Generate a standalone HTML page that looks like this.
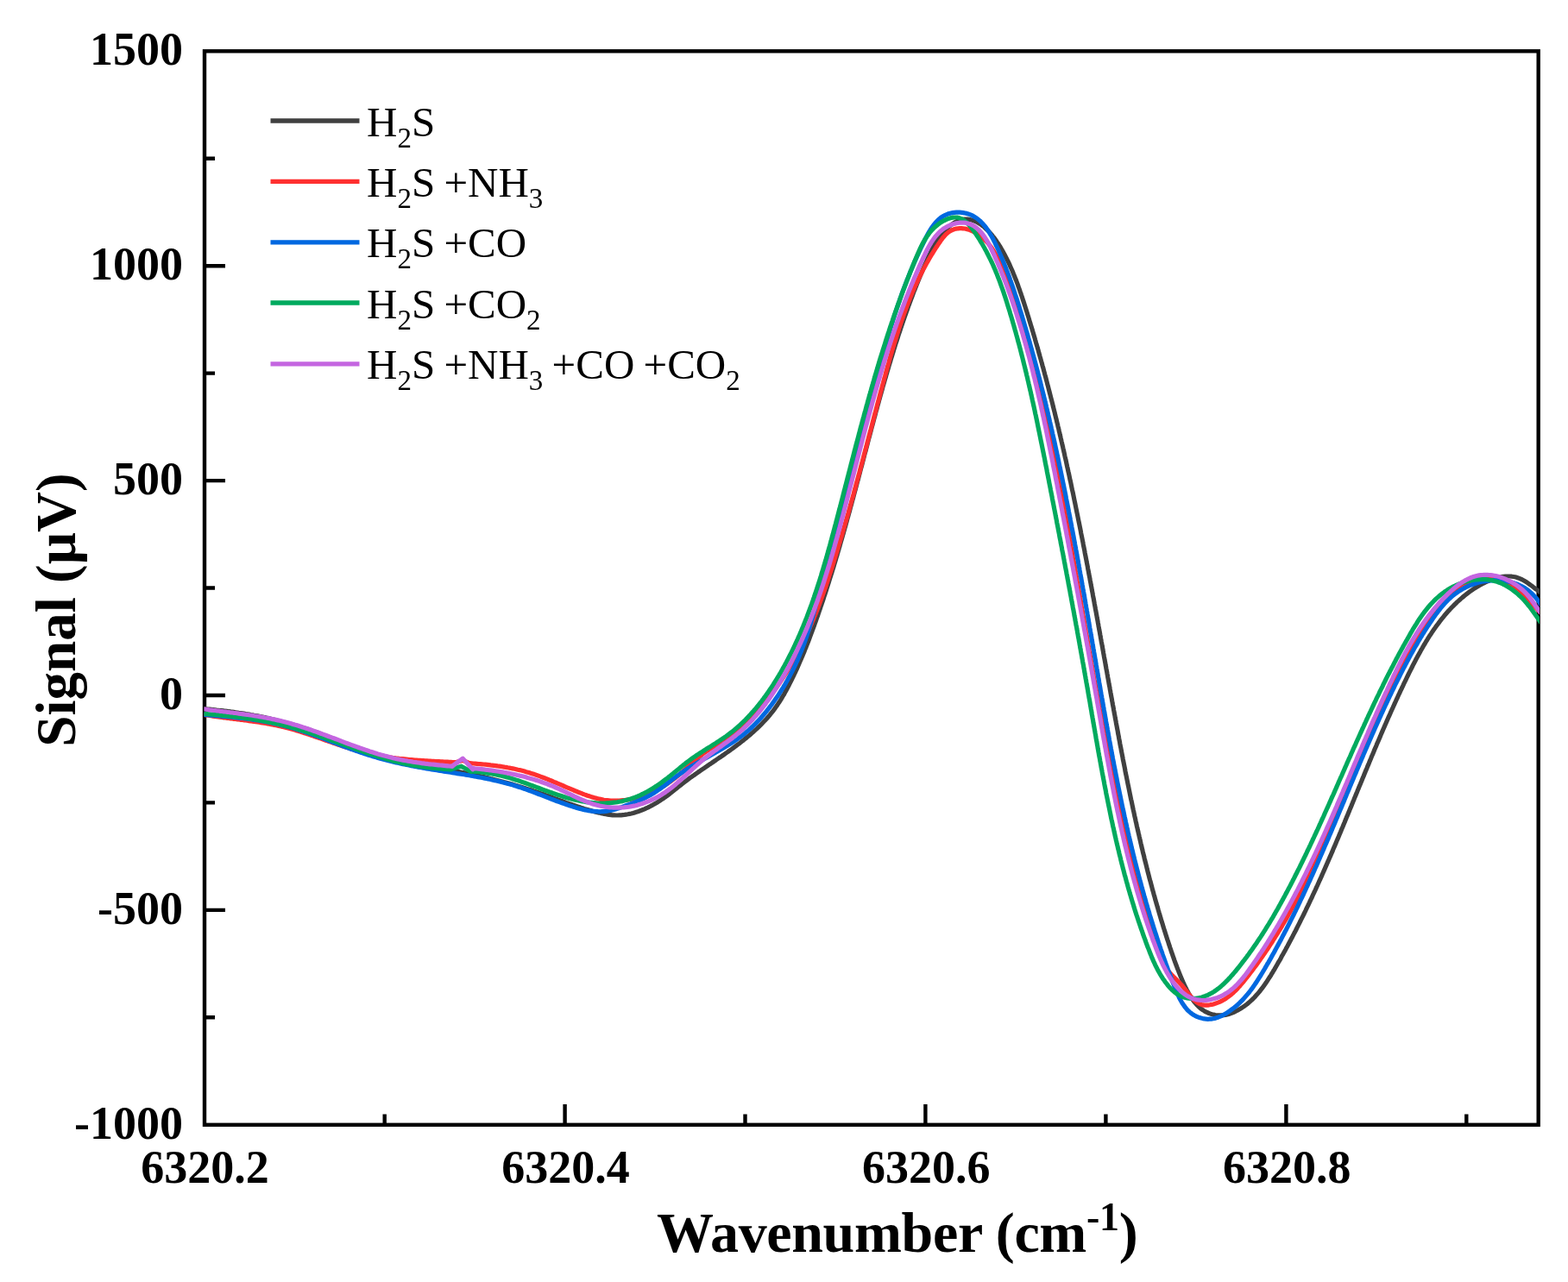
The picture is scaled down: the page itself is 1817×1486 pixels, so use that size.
<!DOCTYPE html>
<html><head><meta charset="utf-8">
<style>
html,body{margin:0;padding:0;background:#fff;}
body{width:1817px;height:1486px;overflow:hidden;}
svg{display:block;}
.tl{font-family:"Liberation Serif","Times New Roman",serif;font-weight:bold;font-size:54px;fill:#000;}
.lg{font-family:"Liberation Serif","Times New Roman",serif;font-size:49px;fill:#000;word-spacing:-2px;}
.sb{font-size:33px;}
.ax{font-family:"Liberation Serif","Times New Roman",serif;font-weight:bold;font-size:66px;fill:#000;}
</style></head>
<body>
<svg width="1817" height="1486" viewBox="0 0 1817 1486">
<defs><clipPath id="pc"><rect x="236.5" y="40" width="1547.6" height="1270"/></clipPath></defs>
<rect x="0" y="0" width="1817" height="1486" fill="#fff"/>
<!-- AXES -->
<g stroke="#000" stroke-width="4.4" fill="none">
<rect x="237" y="59.3" width="1545.7" height="1244.5"/>
<path d="M237 308.2H261M237 557.1H261M237 806H261M237 1054.9H261"/>
<path d="M237 183.7H249M237 432.6H249M237 681.5H249M237 930.4H249M237 1179.3H249"/>
<path d="M654.6 1303.8V1280M1072.4 1303.8V1280M1490.4 1303.8V1280"/>
<path d="M445.7 1303.8V1291.6M863.5 1303.8V1291.6M1281.4 1303.8V1291.6M1699.3 1303.8V1291.6"/>
</g>
<!-- CURVES -->
<g id="curves" clip-path="url(#pc)" fill="none" stroke-width="5.2" stroke-linejoin="round" stroke-linecap="butt">
<path stroke="#404040" d="M233.0 821.3 L235.0 821.4 L237.0 821.6 L239.0 821.8 L240.9 822.0 L242.9 822.2 L244.9 822.4 L246.9 822.6 L248.9 822.8 L250.9 823.1 L252.9 823.3 L254.9 823.5 L256.9 823.7 L258.9 823.9 L260.9 824.2 L262.9 824.4 L264.8 824.7 L266.8 824.9 L268.8 825.2 L270.8 825.4 L272.8 825.7 L274.8 826.0 L276.8 826.3 L278.8 826.5 L280.8 826.8 L282.7 827.1 L284.7 827.5 L286.7 827.8 L288.7 828.1 L290.7 828.5 L292.6 828.8 L294.6 829.2 L296.6 829.5 L298.5 829.9 L300.5 830.3 L302.5 830.7 L304.4 831.1 L306.4 831.5 L308.3 831.9 L310.3 832.4 L312.2 832.8 L314.2 833.3 L316.1 833.7 L318.1 834.2 L320.0 834.7 L321.9 835.2 L323.9 835.7 L325.8 836.2 L327.7 836.7 L329.7 837.2 L331.6 837.7 L333.5 838.3 L335.4 838.8 L337.4 839.4 L339.3 839.9 L341.2 840.5 L343.1 841.1 L345.0 841.7 L346.9 842.2 L348.8 842.9 L350.7 843.5 L352.6 844.1 L354.5 844.7 L356.4 845.3 L358.3 846.0 L360.2 846.6 L362.1 847.3 L364.0 848.0 L365.9 848.6 L367.8 849.3 L369.7 850.0 L371.5 850.7 L373.4 851.4 L375.3 852.1 L377.2 852.8 L379.0 853.6 L380.9 854.3 L382.8 855.0 L384.6 855.8 L386.5 856.5 L388.4 857.2 L390.2 858.0 L392.1 858.7 L394.0 859.5 L395.8 860.2 L397.7 861.0 L399.5 861.7 L401.4 862.5 L403.3 863.2 L405.1 864.0 L407.0 864.7 L408.9 865.5 L410.7 866.2 L412.6 867.0 L414.5 867.7 L416.3 868.4 L418.2 869.1 L420.1 869.9 L422.0 870.6 L423.8 871.3 L425.7 872.0 L427.6 872.7 L429.5 873.3 L431.4 874.0 L433.2 874.7 L435.1 875.3 L437.0 875.9 L438.9 876.6 L440.8 877.2 L442.7 877.8 L444.6 878.4 L446.6 878.9 L448.5 879.5 L450.4 880.0 L452.3 880.6 L454.2 881.1 L456.2 881.6 L458.1 882.0 L460.1 882.5 L462.0 882.9 L463.9 883.4 L465.9 883.8 L467.9 884.2 L469.8 884.6 L471.8 884.9 L473.8 885.3 L475.7 885.7 L477.7 886.0 L479.7 886.3 L481.7 886.7 L483.6 887.0 L485.6 887.3 L487.6 887.6 L489.6 887.9 L491.6 888.2 L493.6 888.5 L495.6 888.8 L497.6 889.1 L499.5 889.4 L501.5 889.7 L503.5 889.9 L505.5 890.2 L507.5 890.5 L509.5 890.8 L511.5 891.1 L513.4 891.5 L515.4 891.8 L517.4 892.1 L519.4 892.4 L521.4 892.7 L523.3 893.1 L525.3 893.4 L527.3 893.8 L529.2 894.1 L531.2 894.5 L533.2 894.9 L535.1 895.2 L537.1 895.6 L539.1 896.0 L541.0 896.4 L543.0 896.8 L545.0 897.2 L546.9 897.6 L548.9 898.0 L550.8 898.4 L552.8 898.9 L554.7 899.3 L556.7 899.7 L558.6 900.2 L560.6 900.6 L562.5 901.1 L564.5 901.5 L566.4 902.0 L568.3 902.5 L570.3 902.9 L572.2 903.4 L574.2 903.9 L576.1 904.4 L578.0 904.9 L580.0 905.4 L581.9 905.9 L583.8 906.5 L585.8 907.0 L587.7 907.5 L589.6 908.0 L591.5 908.6 L593.5 909.1 L595.4 909.7 L597.3 910.3 L599.2 910.8 L601.2 911.4 L603.1 912.0 L605.0 912.6 L606.9 913.2 L608.8 913.8 L610.7 914.4 L612.6 915.0 L614.5 915.6 L616.4 916.2 L618.3 916.9 L620.2 917.5 L622.1 918.2 L624.0 918.8 L625.9 919.5 L627.8 920.1 L629.7 920.8 L631.6 921.5 L633.5 922.2 L635.4 922.8 L637.3 923.5 L639.2 924.2 L641.1 924.9 L642.9 925.6 L644.8 926.3 L646.7 927.0 L648.6 927.6 L650.5 928.3 L652.4 929.0 L654.3 929.7 L656.2 930.4 L658.0 931.0 L659.9 931.7 L661.8 932.3 L663.7 933.0 L665.6 933.6 L667.5 934.3 L669.4 934.9 L671.3 935.5 L673.2 936.2 L675.1 936.8 L677.0 937.4 L678.9 937.9 L680.9 938.5 L682.8 939.1 L684.7 939.6 L686.6 940.2 L688.5 940.7 L690.5 941.2 L692.4 941.7 L694.3 942.1 L696.3 942.6 L698.2 943.0 L700.2 943.4 L702.1 943.8 L704.1 944.1 L706.0 944.4 L708.0 944.6 L709.9 944.8 L711.9 944.9 L713.9 945.0 L715.8 945.0 L717.8 944.9 L719.8 944.8 L721.7 944.6 L723.7 944.4 L725.6 944.1 L727.6 943.8 L729.6 943.4 L731.5 943.0 L733.5 942.5 L735.4 941.9 L737.3 941.3 L739.2 940.7 L741.2 940.0 L743.1 939.3 L745.0 938.5 L746.8 937.8 L748.7 936.9 L750.6 936.1 L752.4 935.2 L754.2 934.2 L756.0 933.3 L757.8 932.3 L759.6 931.2 L761.4 930.2 L763.1 929.1 L764.8 928.0 L766.5 926.9 L768.2 925.8 L769.8 924.6 L771.5 923.5 L773.1 922.3 L774.7 921.1 L776.2 919.9 L777.8 918.7 L779.3 917.5 L780.9 916.2 L782.4 915.0 L784.0 913.8 L785.5 912.5 L787.0 911.3 L788.6 910.1 L790.1 908.9 L791.7 907.7 L793.3 906.5 L794.8 905.3 L796.4 904.1 L798.0 902.9 L799.6 901.7 L801.2 900.6 L802.9 899.4 L804.5 898.3 L806.1 897.1 L807.8 896.0 L809.4 894.8 L811.1 893.7 L812.7 892.5 L814.4 891.4 L816.0 890.3 L817.7 889.1 L819.4 888.0 L821.0 886.9 L822.7 885.7 L824.4 884.6 L826.0 883.5 L827.7 882.3 L829.4 881.2 L831.1 880.0 L832.7 878.9 L834.4 877.8 L836.1 876.6 L837.7 875.5 L839.4 874.3 L841.0 873.2 L842.7 872.0 L844.3 870.8 L846.0 869.7 L847.6 868.5 L849.2 867.3 L850.8 866.1 L852.5 864.9 L854.1 863.7 L855.7 862.5 L857.3 861.3 L858.9 860.0 L860.4 858.8 L862.0 857.6 L863.6 856.3 L865.1 855.1 L866.6 853.8 L868.2 852.5 L869.7 851.2 L871.2 849.9 L872.7 848.6 L874.2 847.2 L875.6 845.9 L877.1 844.6 L878.5 843.2 L879.9 841.8 L881.4 840.4 L882.8 839.0 L884.1 837.6 L885.5 836.1 L886.8 834.7 L888.2 833.2 L889.5 831.7 L890.8 830.2 L892.1 828.7 L893.3 827.2 L894.6 825.6 L895.8 824.1 L897.0 822.5 L898.2 820.9 L899.3 819.2 L900.5 817.6 L901.6 815.9 L902.7 814.3 L903.8 812.6 L904.9 810.9 L905.9 809.1 L906.9 807.4 L908.0 805.7 L909.0 803.9 L909.9 802.1 L910.9 800.4 L911.9 798.6 L912.8 796.8 L913.8 795.0 L914.7 793.2 L915.6 791.4 L916.5 789.6 L917.4 787.8 L918.3 785.9 L919.2 784.1 L920.1 782.3 L920.9 780.5 L921.8 778.7 L922.6 776.8 L923.5 775.0 L924.3 773.2 L925.1 771.3 L925.9 769.5 L926.7 767.6 L927.5 765.8 L928.3 764.0 L929.1 762.1 L929.9 760.3 L930.6 758.4 L931.4 756.6 L932.2 754.7 L932.9 752.8 L933.7 751.0 L934.4 749.1 L935.1 747.3 L935.9 745.4 L936.6 743.5 L937.3 741.7 L938.0 739.8 L938.7 737.9 L939.4 736.1 L940.1 734.2 L940.8 732.3 L941.5 730.4 L942.2 728.6 L942.9 726.7 L943.6 724.8 L944.2 722.9 L944.9 721.0 L945.6 719.1 L946.2 717.3 L946.9 715.4 L947.6 713.5 L948.2 711.6 L948.9 709.7 L949.5 707.8 L950.2 705.9 L950.8 704.0 L951.4 702.2 L952.1 700.3 L952.7 698.4 L953.4 696.5 L954.0 694.6 L954.6 692.7 L955.2 690.8 L955.9 688.9 L956.5 687.0 L957.1 685.1 L957.7 683.2 L958.3 681.3 L958.9 679.4 L959.5 677.5 L960.1 675.6 L960.7 673.7 L961.3 671.8 L961.9 669.8 L962.5 667.9 L963.1 666.0 L963.7 664.1 L964.3 662.2 L964.9 660.3 L965.5 658.4 L966.1 656.5 L966.6 654.6 L967.2 652.7 L967.8 650.7 L968.4 648.8 L968.9 646.9 L969.5 645.0 L970.1 643.1 L970.6 641.2 L971.2 639.2 L971.8 637.3 L972.3 635.4 L972.9 633.5 L973.4 631.6 L974.0 629.6 L974.5 627.7 L975.1 625.8 L975.6 623.9 L976.2 621.9 L976.7 620.0 L977.3 618.1 L977.8 616.2 L978.4 614.2 L978.9 612.3 L979.5 610.4 L980.0 608.5 L980.5 606.5 L981.1 604.6 L981.6 602.7 L982.1 600.7 L982.7 598.8 L983.2 596.9 L983.7 595.0 L984.3 593.0 L984.8 591.1 L985.3 589.2 L985.8 587.2 L986.4 585.3 L986.9 583.4 L987.4 581.4 L987.9 579.5 L988.5 577.6 L989.0 575.6 L989.5 573.7 L990.0 571.8 L990.5 569.8 L991.1 567.9 L991.6 565.9 L992.1 564.0 L992.6 562.1 L993.1 560.1 L993.6 558.2 L994.2 556.3 L994.7 554.3 L995.2 552.4 L995.7 550.4 L996.2 548.5 L996.7 546.6 L997.2 544.6 L997.7 542.7 L998.3 540.7 L998.8 538.8 L999.3 536.9 L999.8 534.9 L1000.3 533.0 L1000.8 531.1 L1001.3 529.1 L1001.8 527.2 L1002.3 525.2 L1002.9 523.3 L1003.4 521.3 L1003.9 519.4 L1004.4 517.5 L1004.9 515.5 L1005.4 513.6 L1005.9 511.6 L1006.4 509.7 L1006.9 507.8 L1007.5 505.8 L1008.0 503.9 L1008.5 501.9 L1009.0 500.0 L1009.5 498.1 L1010.0 496.1 L1010.5 494.2 L1011.1 492.2 L1011.6 490.3 L1012.1 488.4 L1012.6 486.4 L1013.1 484.5 L1013.7 482.5 L1014.2 480.6 L1014.7 478.7 L1015.2 476.7 L1015.8 474.8 L1016.3 472.9 L1016.8 470.9 L1017.3 469.0 L1017.9 467.0 L1018.4 465.1 L1018.9 463.2 L1019.5 461.2 L1020.0 459.3 L1020.5 457.4 L1021.1 455.4 L1021.6 453.5 L1022.2 451.6 L1022.7 449.7 L1023.2 447.7 L1023.8 445.8 L1024.3 443.9 L1024.9 441.9 L1025.4 440.0 L1026.0 438.1 L1026.6 436.2 L1027.1 434.2 L1027.7 432.3 L1028.2 430.4 L1028.8 428.5 L1029.4 426.5 L1029.9 424.6 L1030.5 422.7 L1031.1 420.8 L1031.7 418.9 L1032.2 417.0 L1032.8 415.0 L1033.4 413.1 L1034.0 411.2 L1034.6 409.3 L1035.2 407.4 L1035.7 405.5 L1036.3 403.6 L1036.9 401.7 L1037.5 399.7 L1038.1 397.8 L1038.8 395.9 L1039.4 394.0 L1040.0 392.1 L1040.6 390.2 L1041.2 388.3 L1041.8 386.4 L1042.5 384.5 L1043.1 382.6 L1043.7 380.7 L1044.4 378.8 L1045.0 377.0 L1045.6 375.1 L1046.3 373.2 L1046.9 371.3 L1047.6 369.4 L1048.2 367.5 L1048.9 365.6 L1049.6 363.8 L1050.2 361.9 L1050.9 360.0 L1051.6 358.1 L1052.2 356.2 L1052.9 354.4 L1053.6 352.5 L1054.3 350.6 L1055.0 348.8 L1055.7 346.9 L1056.4 345.0 L1057.1 343.2 L1057.8 341.3 L1058.5 339.4 L1059.2 337.6 L1060.0 335.7 L1060.7 333.9 L1061.4 332.0 L1062.1 330.2 L1062.9 328.3 L1063.6 326.5 L1064.4 324.6 L1065.1 322.8 L1065.9 320.9 L1066.6 319.1 L1067.4 317.3 L1068.2 315.4 L1069.0 313.6 L1069.7 311.8 L1070.5 309.9 L1071.3 308.1 L1072.1 306.3 L1072.9 304.5 L1073.7 302.7 L1074.5 300.8 L1075.3 299.0 L1076.2 297.2 L1077.0 295.4 L1077.9 293.6 L1078.7 291.8 L1079.6 290.0 L1080.5 288.2 L1081.4 286.5 L1082.4 284.7 L1083.4 282.9 L1084.4 281.2 L1085.5 279.5 L1086.6 277.8 L1087.8 276.0 L1089.0 274.4 L1090.3 272.7 L1091.6 271.1 L1092.9 269.4 L1094.3 267.9 L1095.8 266.3 L1097.3 264.9 L1098.8 263.4 L1100.4 262.1 L1102.0 260.8 L1103.6 259.7 L1105.2 258.6 L1106.9 257.6 L1108.7 256.7 L1110.4 255.9 L1112.2 255.3 L1113.9 254.8 L1115.8 254.4 L1117.6 254.2 L1119.4 254.1 L1121.2 254.2 L1123.1 254.4 L1124.9 254.8 L1126.7 255.2 L1128.5 255.8 L1130.3 256.6 L1132.1 257.4 L1133.8 258.4 L1135.5 259.4 L1137.2 260.6 L1138.8 261.8 L1140.4 263.1 L1141.9 264.5 L1143.5 266.0 L1145.0 267.4 L1146.4 269.0 L1147.8 270.5 L1149.2 272.1 L1150.5 273.8 L1151.8 275.4 L1153.0 277.0 L1154.2 278.7 L1155.3 280.4 L1156.4 282.0 L1157.5 283.7 L1158.6 285.4 L1159.6 287.1 L1160.6 288.9 L1161.6 290.6 L1162.6 292.3 L1163.5 294.1 L1164.5 295.8 L1165.4 297.6 L1166.3 299.4 L1167.2 301.2 L1168.1 302.9 L1168.9 304.7 L1169.8 306.5 L1170.6 308.4 L1171.4 310.2 L1172.2 312.0 L1173.0 313.8 L1173.8 315.7 L1174.5 317.5 L1175.3 319.4 L1176.0 321.2 L1176.7 323.1 L1177.5 324.9 L1178.2 326.8 L1178.9 328.7 L1179.6 330.6 L1180.2 332.4 L1180.9 334.3 L1181.6 336.2 L1182.2 338.1 L1182.9 340.0 L1183.5 341.9 L1184.2 343.8 L1184.8 345.7 L1185.4 347.6 L1186.0 349.5 L1186.7 351.4 L1187.3 353.4 L1187.9 355.3 L1188.5 357.2 L1189.1 359.1 L1189.7 361.0 L1190.3 362.9 L1190.9 364.9 L1191.5 366.8 L1192.1 368.7 L1192.6 370.6 L1193.2 372.5 L1193.8 374.4 L1194.4 376.4 L1195.0 378.3 L1195.6 380.2 L1196.1 382.1 L1196.7 384.0 L1197.3 386.0 L1197.8 387.9 L1198.4 389.8 L1199.0 391.7 L1199.5 393.7 L1200.1 395.6 L1200.6 397.5 L1201.2 399.4 L1201.8 401.4 L1202.3 403.3 L1202.9 405.2 L1203.4 407.1 L1203.9 409.1 L1204.5 411.0 L1205.0 412.9 L1205.6 414.9 L1206.1 416.8 L1206.6 418.7 L1207.2 420.6 L1207.7 422.6 L1208.2 424.5 L1208.8 426.4 L1209.3 428.4 L1209.8 430.3 L1210.3 432.2 L1210.8 434.2 L1211.4 436.1 L1211.9 438.0 L1212.4 440.0 L1212.9 441.9 L1213.4 443.8 L1213.9 445.8 L1214.4 447.7 L1214.9 449.6 L1215.4 451.6 L1215.9 453.5 L1216.4 455.5 L1216.9 457.4 L1217.4 459.3 L1217.9 461.3 L1218.4 463.2 L1218.9 465.2 L1219.4 467.1 L1219.9 469.0 L1220.3 471.0 L1220.8 472.9 L1221.3 474.9 L1221.8 476.8 L1222.3 478.7 L1222.7 480.7 L1223.2 482.6 L1223.7 484.6 L1224.2 486.5 L1224.6 488.5 L1225.1 490.4 L1225.6 492.3 L1226.0 494.3 L1226.5 496.2 L1227.0 498.2 L1227.4 500.1 L1227.9 502.1 L1228.3 504.0 L1228.8 506.0 L1229.2 507.9 L1229.7 509.9 L1230.1 511.8 L1230.6 513.7 L1231.0 515.7 L1231.5 517.6 L1231.9 519.6 L1232.4 521.5 L1232.8 523.5 L1233.3 525.4 L1233.7 527.4 L1234.1 529.3 L1234.6 531.3 L1235.0 533.2 L1235.5 535.2 L1235.9 537.2 L1236.3 539.1 L1236.7 541.1 L1237.2 543.0 L1237.6 545.0 L1238.0 546.9 L1238.5 548.9 L1238.9 550.8 L1239.3 552.8 L1239.7 554.7 L1240.1 556.7 L1240.6 558.6 L1241.0 560.6 L1241.4 562.6 L1241.8 564.5 L1242.2 566.5 L1242.6 568.4 L1243.1 570.4 L1243.5 572.3 L1243.9 574.3 L1244.3 576.3 L1244.7 578.2 L1245.1 580.2 L1245.5 582.1 L1245.9 584.1 L1246.3 586.0 L1246.7 588.0 L1247.1 590.0 L1247.5 591.9 L1247.9 593.9 L1248.3 595.8 L1248.7 597.8 L1249.1 599.8 L1249.5 601.7 L1249.9 603.7 L1250.3 605.6 L1250.7 607.6 L1251.1 609.6 L1251.5 611.5 L1251.9 613.5 L1252.3 615.5 L1252.6 617.4 L1253.0 619.4 L1253.4 621.3 L1253.8 623.3 L1254.2 625.3 L1254.6 627.2 L1255.0 629.2 L1255.3 631.2 L1255.7 633.1 L1256.1 635.1 L1256.5 637.1 L1256.9 639.0 L1257.2 641.0 L1257.6 643.0 L1258.0 644.9 L1258.4 646.9 L1258.8 648.9 L1259.1 650.8 L1259.5 652.8 L1259.9 654.8 L1260.3 656.7 L1260.6 658.7 L1261.0 660.7 L1261.4 662.6 L1261.7 664.6 L1262.1 666.6 L1262.5 668.5 L1262.9 670.5 L1263.2 672.5 L1263.6 674.4 L1264.0 676.4 L1264.3 678.4 L1264.7 680.3 L1265.1 682.3 L1265.4 684.3 L1265.8 686.2 L1266.2 688.2 L1266.5 690.2 L1266.9 692.2 L1267.3 694.1 L1267.6 696.1 L1268.0 698.1 L1268.3 700.0 L1268.7 702.0 L1269.1 704.0 L1269.4 706.0 L1269.8 707.9 L1270.2 709.9 L1270.5 711.9 L1270.9 713.8 L1271.2 715.8 L1271.6 717.8 L1272.0 719.8 L1272.3 721.7 L1272.7 723.7 L1273.0 725.7 L1273.4 727.6 L1273.7 729.6 L1274.1 731.6 L1274.5 733.6 L1274.8 735.5 L1275.2 737.5 L1275.5 739.5 L1275.9 741.5 L1276.2 743.4 L1276.6 745.4 L1277.0 747.4 L1277.3 749.3 L1277.7 751.3 L1278.0 753.3 L1278.4 755.3 L1278.7 757.2 L1279.1 759.2 L1279.4 761.2 L1279.8 763.2 L1280.2 765.1 L1280.5 767.1 L1280.9 769.1 L1281.2 771.1 L1281.6 773.0 L1281.9 775.0 L1282.3 777.0 L1282.7 779.0 L1283.0 780.9 L1283.4 782.9 L1283.7 784.9 L1284.1 786.9 L1284.4 788.8 L1284.8 790.8 L1285.1 792.8 L1285.5 794.8 L1285.9 796.7 L1286.2 798.7 L1286.6 800.7 L1286.9 802.7 L1287.3 804.6 L1287.6 806.6 L1288.0 808.6 L1288.4 810.6 L1288.7 812.5 L1289.1 814.5 L1289.4 816.5 L1289.8 818.5 L1290.2 820.4 L1290.5 822.4 L1290.9 824.4 L1291.2 826.4 L1291.6 828.3 L1292.0 830.3 L1292.3 832.3 L1292.7 834.3 L1293.1 836.2 L1293.4 838.2 L1293.8 840.2 L1294.2 842.2 L1294.5 844.1 L1294.9 846.1 L1295.3 848.1 L1295.6 850.1 L1296.0 852.0 L1296.4 854.0 L1296.7 856.0 L1297.1 858.0 L1297.5 859.9 L1297.8 861.9 L1298.2 863.9 L1298.6 865.9 L1299.0 867.8 L1299.3 869.8 L1299.7 871.8 L1300.1 873.7 L1300.5 875.7 L1300.9 877.7 L1301.2 879.7 L1301.6 881.6 L1302.0 883.6 L1302.4 885.6 L1302.8 887.5 L1303.2 889.5 L1303.6 891.5 L1303.9 893.4 L1304.3 895.4 L1304.7 897.4 L1305.1 899.3 L1305.5 901.3 L1305.9 903.3 L1306.3 905.2 L1306.7 907.2 L1307.1 909.2 L1307.5 911.1 L1307.9 913.1 L1308.3 915.1 L1308.7 917.0 L1309.1 919.0 L1309.5 921.0 L1309.9 922.9 L1310.3 924.9 L1310.7 926.8 L1311.2 928.8 L1311.6 930.8 L1312.0 932.7 L1312.4 934.7 L1312.8 936.6 L1313.2 938.6 L1313.7 940.6 L1314.1 942.5 L1314.5 944.5 L1314.9 946.4 L1315.4 948.4 L1315.8 950.3 L1316.2 952.3 L1316.7 954.2 L1317.1 956.2 L1317.5 958.1 L1318.0 960.1 L1318.4 962.0 L1318.9 964.0 L1319.3 965.9 L1319.8 967.9 L1320.2 969.8 L1320.7 971.8 L1321.1 973.7 L1321.6 975.7 L1322.0 977.6 L1322.5 979.6 L1322.9 981.5 L1323.4 983.5 L1323.9 985.4 L1324.3 987.3 L1324.8 989.3 L1325.3 991.2 L1325.8 993.2 L1326.2 995.1 L1326.7 997.0 L1327.2 999.0 L1327.7 1000.9 L1328.2 1002.8 L1328.7 1004.8 L1329.1 1006.7 L1329.6 1008.6 L1330.1 1010.6 L1330.6 1012.5 L1331.1 1014.4 L1331.6 1016.4 L1332.1 1018.3 L1332.6 1020.2 L1333.2 1022.1 L1333.7 1024.1 L1334.2 1026.0 L1334.7 1027.9 L1335.2 1029.8 L1335.7 1031.8 L1336.3 1033.7 L1336.8 1035.6 L1337.3 1037.5 L1337.9 1039.4 L1338.4 1041.3 L1338.9 1043.3 L1339.5 1045.2 L1340.0 1047.1 L1340.6 1049.0 L1341.1 1050.9 L1341.7 1052.8 L1342.2 1054.7 L1342.8 1056.6 L1343.3 1058.5 L1343.9 1060.4 L1344.5 1062.4 L1345.0 1064.3 L1345.6 1066.2 L1346.2 1068.1 L1346.8 1070.0 L1347.4 1071.9 L1347.9 1073.8 L1348.5 1075.7 L1349.1 1077.5 L1349.7 1079.4 L1350.3 1081.3 L1350.9 1083.2 L1351.5 1085.1 L1352.1 1087.0 L1352.7 1088.9 L1353.4 1090.8 L1354.0 1092.7 L1354.6 1094.6 L1355.2 1096.4 L1355.8 1098.3 L1356.5 1100.2 L1357.1 1102.1 L1357.7 1104.0 L1358.4 1105.8 L1359.0 1107.7 L1359.7 1109.6 L1360.4 1111.5 L1361.0 1113.4 L1361.7 1115.2 L1362.4 1117.1 L1363.1 1119.0 L1363.8 1120.9 L1364.5 1122.8 L1365.3 1124.7 L1366.0 1126.6 L1366.8 1128.5 L1367.6 1130.4 L1368.3 1132.3 L1369.2 1134.3 L1370.0 1136.2 L1370.8 1138.1 L1371.7 1140.1 L1372.6 1142.0 L1373.5 1143.9 L1374.4 1145.8 L1375.4 1147.7 L1376.4 1149.5 L1377.4 1151.4 L1378.4 1153.2 L1379.5 1154.9 L1380.6 1156.7 L1381.8 1158.3 L1383.0 1160.0 L1384.2 1161.6 L1385.5 1163.1 L1386.8 1164.6 L1388.2 1166.0 L1389.6 1167.3 L1391.0 1168.6 L1392.6 1169.8 L1394.1 1170.9 L1395.7 1171.9 L1397.4 1172.9 L1399.1 1173.7 L1400.9 1174.5 L1402.7 1175.1 L1404.5 1175.7 L1406.4 1176.1 L1408.3 1176.5 L1410.2 1176.8 L1412.2 1176.9 L1414.1 1176.9 L1416.1 1176.9 L1418.1 1176.7 L1420.0 1176.4 L1422.0 1175.9 L1424.0 1175.4 L1425.9 1174.8 L1427.8 1174.1 L1429.7 1173.3 L1431.5 1172.4 L1433.3 1171.5 L1435.1 1170.6 L1436.8 1169.6 L1438.5 1168.5 L1440.2 1167.4 L1441.8 1166.3 L1443.4 1165.2 L1445.0 1164.0 L1446.5 1162.7 L1448.0 1161.4 L1449.4 1160.1 L1450.9 1158.8 L1452.3 1157.4 L1453.7 1156.0 L1455.0 1154.5 L1456.3 1153.1 L1457.6 1151.6 L1458.9 1150.1 L1460.2 1148.5 L1461.4 1146.9 L1462.6 1145.4 L1463.8 1143.7 L1465.0 1142.1 L1466.1 1140.5 L1467.3 1138.8 L1468.4 1137.1 L1469.5 1135.4 L1470.6 1133.7 L1471.7 1132.0 L1472.8 1130.3 L1473.8 1128.5 L1474.9 1126.8 L1475.9 1125.0 L1477.0 1123.3 L1478.0 1121.5 L1479.0 1119.7 L1480.0 1118.0 L1481.0 1116.2 L1482.1 1114.4 L1483.1 1112.7 L1484.1 1110.9 L1485.0 1109.1 L1486.0 1107.3 L1487.0 1105.6 L1488.0 1103.8 L1489.0 1102.0 L1490.0 1100.2 L1490.9 1098.4 L1491.9 1096.7 L1492.8 1094.9 L1493.8 1093.1 L1494.7 1091.3 L1495.7 1089.5 L1496.6 1087.7 L1497.6 1085.9 L1498.5 1084.1 L1499.4 1082.4 L1500.4 1080.6 L1501.3 1078.8 L1502.2 1077.0 L1503.1 1075.2 L1504.0 1073.4 L1504.9 1071.6 L1505.8 1069.8 L1506.7 1068.0 L1507.6 1066.2 L1508.5 1064.4 L1509.4 1062.6 L1510.3 1060.8 L1511.2 1059.0 L1512.1 1057.2 L1513.0 1055.3 L1513.8 1053.5 L1514.7 1051.7 L1515.6 1049.9 L1516.4 1048.1 L1517.3 1046.3 L1518.1 1044.5 L1519.0 1042.7 L1519.9 1040.9 L1520.7 1039.0 L1521.5 1037.2 L1522.4 1035.4 L1523.2 1033.6 L1524.1 1031.8 L1524.9 1029.9 L1525.7 1028.1 L1526.6 1026.3 L1527.4 1024.5 L1528.2 1022.7 L1529.0 1020.8 L1529.9 1019.0 L1530.7 1017.2 L1531.5 1015.4 L1532.3 1013.5 L1533.1 1011.7 L1533.9 1009.9 L1534.7 1008.1 L1535.5 1006.2 L1536.3 1004.4 L1537.1 1002.6 L1537.9 1000.7 L1538.7 998.9 L1539.5 997.1 L1540.3 995.2 L1541.1 993.4 L1541.9 991.6 L1542.7 989.7 L1543.5 987.9 L1544.3 986.1 L1545.0 984.2 L1545.8 982.4 L1546.6 980.6 L1547.4 978.7 L1548.2 976.9 L1548.9 975.1 L1549.7 973.2 L1550.5 971.4 L1551.3 969.5 L1552.0 967.7 L1552.8 965.9 L1553.6 964.0 L1554.3 962.2 L1555.1 960.3 L1555.9 958.5 L1556.6 956.7 L1557.4 954.8 L1558.2 953.0 L1558.9 951.1 L1559.7 949.3 L1560.4 947.4 L1561.2 945.6 L1562.0 943.8 L1562.7 941.9 L1563.5 940.1 L1564.2 938.2 L1565.0 936.4 L1565.8 934.5 L1566.5 932.7 L1567.3 930.8 L1568.0 929.0 L1568.8 927.2 L1569.5 925.3 L1570.3 923.5 L1571.1 921.6 L1571.8 919.8 L1572.6 917.9 L1573.3 916.1 L1574.1 914.2 L1574.8 912.4 L1575.6 910.5 L1576.4 908.7 L1577.1 906.9 L1577.9 905.0 L1578.6 903.2 L1579.4 901.3 L1580.2 899.5 L1580.9 897.6 L1581.7 895.8 L1582.4 893.9 L1583.2 892.1 L1584.0 890.2 L1584.7 888.4 L1585.5 886.6 L1586.3 884.7 L1587.0 882.9 L1587.8 881.0 L1588.6 879.2 L1589.3 877.3 L1590.1 875.5 L1590.9 873.7 L1591.7 871.8 L1592.4 870.0 L1593.2 868.1 L1594.0 866.3 L1594.8 864.4 L1595.5 862.6 L1596.3 860.8 L1597.1 858.9 L1597.9 857.1 L1598.7 855.2 L1599.5 853.4 L1600.2 851.6 L1601.0 849.7 L1601.8 847.9 L1602.6 846.0 L1603.4 844.2 L1604.2 842.4 L1605.0 840.5 L1605.8 838.7 L1606.6 836.9 L1607.4 835.0 L1608.2 833.2 L1609.0 831.3 L1609.9 829.5 L1610.7 827.7 L1611.5 825.8 L1612.3 824.0 L1613.1 822.2 L1614.0 820.3 L1614.8 818.5 L1615.6 816.7 L1616.4 814.9 L1617.3 813.0 L1618.1 811.2 L1619.0 809.4 L1619.8 807.5 L1620.6 805.7 L1621.5 803.9 L1622.3 802.1 L1623.2 800.2 L1624.1 798.4 L1624.9 796.6 L1625.8 794.8 L1626.6 792.9 L1627.5 791.1 L1628.4 789.3 L1629.3 787.5 L1630.1 785.7 L1631.0 783.8 L1631.9 782.0 L1632.8 780.2 L1633.7 778.4 L1634.6 776.6 L1635.5 774.8 L1636.4 773.0 L1637.3 771.2 L1638.2 769.4 L1639.2 767.6 L1640.1 765.8 L1641.0 764.0 L1642.0 762.2 L1642.9 760.5 L1643.9 758.7 L1644.9 756.9 L1645.9 755.2 L1646.8 753.4 L1647.8 751.7 L1648.8 749.9 L1649.8 748.2 L1650.9 746.5 L1651.9 744.7 L1652.9 743.0 L1654.0 741.3 L1655.0 739.6 L1656.1 737.9 L1657.2 736.2 L1658.3 734.6 L1659.4 732.9 L1660.5 731.3 L1661.6 729.6 L1662.8 728.0 L1663.9 726.4 L1665.1 724.8 L1666.3 723.2 L1667.5 721.6 L1668.7 720.0 L1669.9 718.4 L1671.1 716.9 L1672.4 715.3 L1673.6 713.8 L1674.9 712.3 L1676.2 710.8 L1677.5 709.3 L1678.8 707.8 L1680.2 706.4 L1681.5 704.9 L1682.9 703.5 L1684.3 702.1 L1685.7 700.7 L1687.1 699.3 L1688.5 697.9 L1690.0 696.6 L1691.5 695.3 L1693.0 693.9 L1694.5 692.6 L1696.0 691.4 L1697.6 690.1 L1699.1 688.8 L1700.7 687.6 L1702.3 686.4 L1704.0 685.2 L1705.6 684.1 L1707.3 682.9 L1709.0 681.8 L1710.7 680.7 L1712.4 679.7 L1714.1 678.7 L1715.9 677.7 L1717.7 676.7 L1719.5 675.8 L1721.3 674.9 L1723.1 674.1 L1725.0 673.3 L1726.8 672.5 L1728.7 671.8 L1730.6 671.1 L1732.6 670.5 L1734.5 669.9 L1736.4 669.4 L1738.4 669.0 L1740.3 668.6 L1742.2 668.3 L1744.2 668.1 L1746.1 668.0 L1748.0 668.0 L1749.9 668.0 L1751.8 668.2 L1753.7 668.5 L1755.6 668.8 L1757.4 669.3 L1759.3 669.9 L1761.1 670.6 L1762.9 671.4 L1764.6 672.3 L1766.4 673.3 L1768.1 674.3 L1769.8 675.4 L1771.5 676.6 L1773.2 677.8 L1774.9 679.0 L1776.5 680.3 L1778.2 681.6 L1779.8 682.8 L1781.5 684.0 L1783.1 685.2 L1784.7 686.4 L1786.3 687.5 L1788.0 688.6"/>
<path stroke="#ff3030" d="M233.0 827.8 L235.0 828.2 L237.0 828.5 L238.9 828.9 L240.9 829.2 L242.9 829.5 L244.8 829.8 L246.8 830.1 L248.8 830.4 L250.8 830.7 L252.7 830.9 L254.7 831.2 L256.7 831.5 L258.7 831.8 L260.7 832.0 L262.7 832.3 L264.7 832.5 L266.6 832.8 L268.6 833.0 L270.6 833.3 L272.6 833.5 L274.6 833.8 L276.6 834.0 L278.6 834.3 L280.6 834.5 L282.6 834.8 L284.6 835.0 L286.5 835.3 L288.5 835.6 L290.5 835.8 L292.5 836.1 L294.5 836.4 L296.5 836.7 L298.5 837.0 L300.5 837.3 L302.4 837.6 L304.4 837.9 L306.4 838.2 L308.4 838.5 L310.3 838.9 L312.3 839.2 L314.3 839.6 L316.2 840.0 L318.2 840.4 L320.2 840.8 L322.1 841.2 L324.1 841.6 L326.0 842.1 L328.0 842.5 L329.9 843.0 L331.8 843.5 L333.8 844.0 L335.7 844.5 L337.6 845.0 L339.5 845.5 L341.5 846.1 L343.4 846.7 L345.3 847.2 L347.2 847.8 L349.1 848.4 L351.0 849.0 L352.9 849.7 L354.8 850.3 L356.7 850.9 L358.6 851.6 L360.5 852.2 L362.4 852.8 L364.3 853.5 L366.2 854.2 L368.1 854.8 L370.0 855.5 L371.9 856.1 L373.8 856.8 L375.7 857.5 L377.6 858.2 L379.5 858.8 L381.4 859.5 L383.3 860.1 L385.2 860.8 L387.1 861.5 L388.9 862.1 L390.8 862.8 L392.7 863.4 L394.6 864.1 L396.5 864.7 L398.5 865.3 L400.4 865.9 L402.3 866.5 L404.2 867.1 L406.1 867.7 L408.0 868.3 L409.9 868.9 L411.8 869.4 L413.8 870.0 L415.7 870.5 L417.6 871.0 L419.6 871.5 L421.5 872.0 L423.4 872.5 L425.4 872.9 L427.3 873.4 L429.3 873.8 L431.2 874.2 L433.2 874.6 L435.1 875.0 L437.1 875.4 L439.1 875.8 L441.0 876.1 L443.0 876.5 L445.0 876.8 L447.0 877.1 L448.9 877.4 L450.9 877.7 L452.9 878.0 L454.9 878.3 L456.9 878.5 L458.8 878.8 L460.8 879.0 L462.8 879.3 L464.8 879.5 L466.8 879.7 L468.8 879.9 L470.8 880.1 L472.8 880.3 L474.8 880.5 L476.8 880.6 L478.8 880.8 L480.8 881.0 L482.7 881.1 L484.7 881.3 L486.7 881.4 L488.7 881.6 L490.7 881.7 L492.7 881.8 L494.7 881.9 L496.7 882.1 L498.7 882.2 L500.7 882.3 L502.7 882.4 L504.7 882.5 L506.7 882.6 L508.7 882.7 L510.7 882.8 L512.7 882.9 L514.7 883.0 L516.7 883.1 L518.7 883.2 L520.7 883.3 L522.7 883.4 L524.7 883.5 L526.7 883.6 L528.7 883.7 L529.5 883.3 L536.3 881.3 L543.0 884.2 L544.7 884.7 L546.7 884.8 L548.7 885.0 L550.7 885.1 L552.7 885.3 L554.7 885.5 L556.7 885.6 L558.6 885.8 L560.6 886.0 L562.6 886.2 L564.6 886.4 L566.6 886.6 L568.6 886.9 L570.6 887.1 L572.6 887.3 L574.6 887.6 L576.6 887.9 L578.5 888.1 L580.5 888.4 L582.5 888.7 L584.5 889.1 L586.4 889.4 L588.4 889.8 L590.4 890.1 L592.3 890.5 L594.3 890.9 L596.3 891.3 L598.2 891.7 L600.2 892.2 L602.1 892.6 L604.0 893.1 L606.0 893.6 L607.9 894.1 L609.8 894.7 L611.8 895.2 L613.7 895.8 L615.6 896.4 L617.5 897.0 L619.4 897.6 L621.3 898.3 L623.2 898.9 L625.1 899.6 L626.9 900.3 L628.8 901.0 L630.7 901.7 L632.6 902.5 L634.4 903.2 L636.3 904.0 L638.2 904.7 L640.0 905.5 L641.9 906.3 L643.7 907.0 L645.6 907.8 L647.5 908.6 L649.3 909.4 L651.2 910.2 L653.0 911.0 L654.9 911.8 L656.7 912.6 L658.5 913.3 L660.4 914.1 L662.2 914.9 L664.1 915.7 L665.9 916.5 L667.8 917.2 L669.6 918.0 L671.5 918.7 L673.3 919.4 L675.2 920.2 L677.1 920.9 L678.9 921.5 L680.8 922.2 L682.7 922.8 L684.5 923.4 L686.4 924.0 L688.3 924.6 L690.2 925.1 L692.1 925.6 L694.0 926.0 L695.9 926.4 L697.9 926.8 L699.8 927.2 L701.7 927.5 L703.7 927.7 L705.6 927.9 L707.6 928.1 L709.6 928.2 L711.6 928.2 L713.6 928.2 L715.6 928.2 L717.6 928.1 L719.7 927.9 L721.7 927.7 L723.7 927.5 L725.8 927.2 L727.8 926.9 L729.8 926.5 L731.9 926.1 L733.9 925.6 L735.9 925.1 L737.9 924.6 L739.9 924.0 L741.8 923.4 L743.8 922.8 L745.7 922.1 L747.6 921.5 L749.5 920.7 L751.4 920.0 L753.3 919.2 L755.1 918.4 L756.9 917.6 L758.6 916.8 L760.4 915.9 L762.1 915.0 L763.8 914.1 L765.5 913.1 L767.2 912.2 L768.9 911.2 L770.5 910.2 L772.2 909.1 L773.8 908.0 L775.4 906.9 L777.0 905.8 L778.5 904.7 L780.1 903.5 L781.6 902.3 L783.2 901.1 L784.7 899.8 L786.3 898.6 L787.8 897.3 L789.3 896.0 L790.8 894.6 L792.3 893.2 L793.8 891.9 L795.3 890.5 L796.8 889.0 L798.3 887.6 L799.8 886.2 L801.3 884.8 L802.9 883.4 L804.4 882.1 L805.9 880.7 L807.5 879.4 L809.0 878.1 L810.6 876.8 L812.2 875.6 L813.8 874.4 L815.4 873.2 L817.0 872.0 L818.6 870.9 L820.3 869.8 L821.9 868.7 L823.6 867.5 L825.2 866.5 L826.9 865.4 L828.5 864.3 L830.2 863.2 L831.8 862.1 L833.5 861.1 L835.1 860.0 L836.8 858.9 L838.4 857.8 L840.0 856.7 L841.7 855.6 L843.3 854.5 L844.9 853.4 L846.5 852.2 L848.1 851.1 L849.7 849.9 L851.3 848.7 L852.9 847.4 L854.5 846.2 L856.0 844.9 L857.6 843.6 L859.1 842.3 L860.6 841.0 L862.1 839.6 L863.6 838.3 L865.1 836.9 L866.6 835.5 L868.0 834.1 L869.5 832.6 L870.9 831.2 L872.4 829.7 L873.8 828.3 L875.2 826.8 L876.6 825.3 L877.9 823.8 L879.3 822.3 L880.7 820.8 L882.0 819.2 L883.3 817.7 L884.6 816.1 L885.9 814.6 L887.2 813.0 L888.5 811.5 L889.8 809.9 L891.0 808.3 L892.3 806.7 L893.5 805.2 L894.7 803.6 L895.9 802.0 L897.1 800.3 L898.3 798.7 L899.5 797.1 L900.6 795.5 L901.8 793.8 L902.9 792.2 L904.1 790.5 L905.2 788.9 L906.3 787.2 L907.4 785.6 L908.5 783.9 L909.5 782.2 L910.6 780.5 L911.7 778.8 L912.7 777.1 L913.7 775.4 L914.8 773.7 L915.8 772.0 L916.8 770.3 L917.8 768.6 L918.8 766.8 L919.7 765.1 L920.7 763.4 L921.7 761.6 L922.6 759.9 L923.6 758.1 L924.5 756.3 L925.4 754.6 L926.3 752.8 L927.2 751.0 L928.1 749.3 L929.0 747.5 L929.9 745.7 L930.8 743.9 L931.6 742.1 L932.5 740.3 L933.4 738.5 L934.2 736.7 L935.0 734.9 L935.9 733.1 L936.7 731.3 L937.5 729.4 L938.3 727.6 L939.1 725.8 L939.9 723.9 L940.7 722.1 L941.4 720.3 L942.2 718.4 L943.0 716.6 L943.7 714.7 L944.5 712.9 L945.2 711.0 L946.0 709.2 L946.7 707.3 L947.4 705.4 L948.2 703.6 L948.9 701.7 L949.6 699.8 L950.3 697.9 L951.0 696.1 L951.7 694.2 L952.4 692.3 L953.1 690.4 L953.7 688.5 L954.4 686.6 L955.1 684.7 L955.7 682.9 L956.4 681.0 L957.1 679.1 L957.7 677.2 L958.4 675.3 L959.0 673.4 L959.6 671.5 L960.3 669.6 L960.9 667.6 L961.5 665.7 L962.2 663.8 L962.8 661.9 L963.4 660.0 L964.0 658.1 L964.6 656.2 L965.2 654.3 L965.8 652.4 L966.4 650.4 L967.0 648.5 L967.6 646.6 L968.2 644.7 L968.8 642.8 L969.4 640.9 L970.0 638.9 L970.6 637.0 L971.2 635.1 L971.7 633.2 L972.3 631.3 L972.9 629.3 L973.5 627.4 L974.0 625.5 L974.6 623.6 L975.2 621.7 L975.8 619.7 L976.3 617.8 L976.9 615.9 L977.4 614.0 L978.0 612.0 L978.6 610.1 L979.1 608.2 L979.7 606.3 L980.2 604.3 L980.8 602.4 L981.3 600.5 L981.9 598.6 L982.4 596.7 L983.0 594.7 L983.5 592.8 L984.0 590.9 L984.6 588.9 L985.1 587.0 L985.7 585.1 L986.2 583.2 L986.7 581.2 L987.3 579.3 L987.8 577.4 L988.3 575.5 L988.9 573.5 L989.4 571.6 L989.9 569.7 L990.4 567.8 L991.0 565.8 L991.5 563.9 L992.0 562.0 L992.5 560.0 L993.1 558.1 L993.6 556.2 L994.1 554.2 L994.6 552.3 L995.1 550.4 L995.7 548.5 L996.2 546.5 L996.7 544.6 L997.2 542.7 L997.7 540.7 L998.2 538.8 L998.7 536.9 L999.3 534.9 L999.8 533.0 L1000.3 531.1 L1000.8 529.1 L1001.3 527.2 L1001.8 525.3 L1002.3 523.3 L1002.8 521.4 L1003.4 519.5 L1003.9 517.5 L1004.4 515.6 L1004.9 513.7 L1005.4 511.7 L1005.9 509.8 L1006.4 507.9 L1006.9 505.9 L1007.4 504.0 L1007.9 502.1 L1008.4 500.1 L1009.0 498.2 L1009.5 496.3 L1010.0 494.3 L1010.5 492.4 L1011.0 490.5 L1011.5 488.5 L1012.0 486.6 L1012.5 484.6 L1013.0 482.7 L1013.5 480.8 L1014.1 478.8 L1014.6 476.9 L1015.1 475.0 L1015.6 473.0 L1016.1 471.1 L1016.6 469.1 L1017.1 467.2 L1017.7 465.3 L1018.2 463.3 L1018.7 461.4 L1019.2 459.5 L1019.7 457.5 L1020.2 455.6 L1020.8 453.6 L1021.3 451.7 L1021.8 449.8 L1022.3 447.8 L1022.8 445.9 L1023.4 443.9 L1023.9 442.0 L1024.4 440.1 L1024.9 438.1 L1025.5 436.2 L1026.0 434.3 L1026.5 432.3 L1027.1 430.4 L1027.6 428.4 L1028.1 426.5 L1028.7 424.6 L1029.2 422.6 L1029.8 420.7 L1030.3 418.7 L1030.8 416.8 L1031.4 414.9 L1031.9 412.9 L1032.5 411.0 L1033.1 409.1 L1033.6 407.1 L1034.2 405.2 L1034.8 403.3 L1035.3 401.4 L1035.9 399.4 L1036.5 397.5 L1037.1 395.6 L1037.7 393.7 L1038.3 391.8 L1038.9 389.8 L1039.5 387.9 L1040.1 386.0 L1040.7 384.1 L1041.3 382.2 L1041.9 380.3 L1042.6 378.4 L1043.2 376.5 L1043.8 374.6 L1044.5 372.7 L1045.1 370.8 L1045.8 368.9 L1046.5 367.0 L1047.1 365.1 L1047.8 363.2 L1048.5 361.3 L1049.2 359.5 L1049.9 357.6 L1050.6 355.7 L1051.3 353.8 L1052.0 352.0 L1052.8 350.1 L1053.5 348.3 L1054.3 346.4 L1055.0 344.6 L1055.8 342.7 L1056.5 340.9 L1057.3 339.0 L1058.1 337.2 L1058.9 335.4 L1059.7 333.5 L1060.5 331.7 L1061.4 329.9 L1062.2 328.1 L1063.0 326.3 L1063.9 324.5 L1064.7 322.7 L1065.6 320.9 L1066.5 319.1 L1067.4 317.3 L1068.3 315.5 L1069.2 313.7 L1070.1 311.9 L1071.1 310.2 L1072.0 308.4 L1073.0 306.7 L1073.9 304.9 L1074.9 303.2 L1075.9 301.4 L1076.9 299.7 L1077.9 298.0 L1079.0 296.2 L1080.0 294.5 L1081.1 292.8 L1082.1 291.1 L1083.2 289.4 L1084.3 287.7 L1085.4 286.0 L1086.5 284.3 L1087.6 282.6 L1088.8 281.0 L1089.9 279.3 L1091.1 277.7 L1092.3 276.0 L1093.6 274.5 L1094.9 273.0 L1096.2 271.5 L1097.7 270.2 L1099.2 269.0 L1100.9 267.9 L1102.6 267.0 L1104.4 266.2 L1106.3 265.6 L1108.2 265.1 L1110.2 264.8 L1112.1 264.6 L1114.1 264.6 L1116.0 264.8 L1118.0 265.0 L1119.9 265.4 L1121.9 266.0 L1123.8 266.6 L1125.6 267.4 L1127.5 268.2 L1129.3 269.2 L1131.1 270.2 L1132.9 271.3 L1134.6 272.5 L1136.3 273.8 L1137.9 275.1 L1139.5 276.5 L1141.0 277.9 L1142.4 279.3 L1143.8 280.8 L1145.2 282.3 L1146.4 283.9 L1147.7 285.4 L1148.9 287.0 L1150.0 288.7 L1151.1 290.3 L1152.1 292.0 L1153.1 293.7 L1154.1 295.5 L1155.0 297.2 L1155.9 299.0 L1156.8 300.8 L1157.6 302.6 L1158.5 304.4 L1159.3 306.2 L1160.0 308.0 L1160.8 309.9 L1161.5 311.7 L1162.2 313.6 L1162.9 315.5 L1163.6 317.4 L1164.3 319.2 L1165.0 321.1 L1165.7 323.0 L1166.4 324.9 L1167.0 326.8 L1167.7 328.6 L1168.4 330.5 L1169.0 332.4 L1169.7 334.3 L1170.4 336.2 L1171.0 338.1 L1171.7 340.0 L1172.3 341.9 L1173.0 343.8 L1173.6 345.7 L1174.2 347.6 L1174.9 349.5 L1175.5 351.4 L1176.1 353.3 L1176.8 355.2 L1177.4 357.1 L1178.0 359.0 L1178.6 360.9 L1179.2 362.8 L1179.8 364.7 L1180.4 366.6 L1181.0 368.5 L1181.6 370.4 L1182.2 372.3 L1182.8 374.2 L1183.4 376.1 L1184.0 378.0 L1184.6 379.9 L1185.1 381.9 L1185.7 383.8 L1186.3 385.7 L1186.9 387.6 L1187.4 389.5 L1188.0 391.4 L1188.5 393.4 L1189.1 395.3 L1189.7 397.2 L1190.2 399.1 L1190.8 401.0 L1191.3 403.0 L1191.9 404.9 L1192.4 406.8 L1192.9 408.7 L1193.5 410.7 L1194.0 412.6 L1194.5 414.5 L1195.1 416.4 L1195.6 418.4 L1196.1 420.3 L1196.6 422.2 L1197.1 424.2 L1197.7 426.1 L1198.2 428.0 L1198.7 430.0 L1199.2 431.9 L1199.7 433.8 L1200.2 435.8 L1200.7 437.7 L1201.2 439.6 L1201.7 441.6 L1202.2 443.5 L1202.6 445.5 L1203.1 447.4 L1203.6 449.3 L1204.1 451.3 L1204.6 453.2 L1205.1 455.2 L1205.5 457.1 L1206.0 459.1 L1206.5 461.0 L1206.9 462.9 L1207.4 464.9 L1207.9 466.8 L1208.3 468.8 L1208.8 470.7 L1209.3 472.7 L1209.7 474.6 L1210.2 476.6 L1210.6 478.5 L1211.1 480.5 L1211.5 482.4 L1212.0 484.4 L1212.4 486.3 L1212.8 488.3 L1213.3 490.2 L1213.7 492.2 L1214.1 494.2 L1214.6 496.1 L1215.0 498.1 L1215.4 500.0 L1215.9 502.0 L1216.3 503.9 L1216.7 505.9 L1217.1 507.8 L1217.6 509.8 L1218.0 511.8 L1218.4 513.7 L1218.8 515.7 L1219.2 517.6 L1219.6 519.6 L1220.0 521.6 L1220.5 523.5 L1220.9 525.5 L1221.3 527.5 L1221.7 529.4 L1222.1 531.4 L1222.5 533.3 L1222.9 535.3 L1223.3 537.3 L1223.7 539.2 L1224.1 541.2 L1224.5 543.2 L1224.8 545.1 L1225.2 547.1 L1225.6 549.1 L1226.0 551.0 L1226.4 553.0 L1226.8 555.0 L1227.2 556.9 L1227.6 558.9 L1227.9 560.9 L1228.3 562.8 L1228.7 564.8 L1229.1 566.8 L1229.4 568.8 L1229.8 570.7 L1230.2 572.7 L1230.6 574.7 L1230.9 576.6 L1231.3 578.6 L1231.7 580.6 L1232.1 582.6 L1232.4 584.5 L1232.8 586.5 L1233.2 588.5 L1233.5 590.4 L1233.9 592.4 L1234.2 594.4 L1234.6 596.4 L1235.0 598.3 L1235.3 600.3 L1235.7 602.3 L1236.0 604.3 L1236.4 606.2 L1236.8 608.2 L1237.1 610.2 L1237.5 612.2 L1237.8 614.1 L1238.2 616.1 L1238.5 618.1 L1238.9 620.1 L1239.2 622.0 L1239.6 624.0 L1239.9 626.0 L1240.3 628.0 L1240.6 629.9 L1241.0 631.9 L1241.3 633.9 L1241.7 635.9 L1242.0 637.8 L1242.4 639.8 L1242.7 641.8 L1243.1 643.8 L1243.4 645.7 L1243.8 647.7 L1244.1 649.7 L1244.5 651.7 L1244.8 653.6 L1245.1 655.6 L1245.5 657.6 L1245.8 659.6 L1246.2 661.5 L1246.5 663.5 L1246.9 665.5 L1247.2 667.5 L1247.5 669.4 L1247.9 671.4 L1248.2 673.4 L1248.6 675.4 L1248.9 677.4 L1249.3 679.3 L1249.6 681.3 L1249.9 683.3 L1250.3 685.3 L1250.6 687.2 L1251.0 689.2 L1251.3 691.2 L1251.6 693.2 L1252.0 695.1 L1252.3 697.1 L1252.7 699.1 L1253.0 701.1 L1253.3 703.0 L1253.7 705.0 L1254.0 707.0 L1254.4 709.0 L1254.7 710.9 L1255.0 712.9 L1255.4 714.9 L1255.7 716.9 L1256.1 718.8 L1256.4 720.8 L1256.7 722.8 L1257.1 724.8 L1257.4 726.7 L1257.8 728.7 L1258.1 730.7 L1258.4 732.7 L1258.8 734.6 L1259.1 736.6 L1259.5 738.6 L1259.8 740.6 L1260.2 742.5 L1260.5 744.5 L1260.8 746.5 L1261.2 748.5 L1261.5 750.4 L1261.9 752.4 L1262.2 754.4 L1262.6 756.4 L1262.9 758.3 L1263.3 760.3 L1263.6 762.3 L1264.0 764.2 L1264.3 766.2 L1264.6 768.2 L1265.0 770.2 L1265.3 772.1 L1265.7 774.1 L1266.0 776.1 L1266.4 778.1 L1266.7 780.0 L1267.1 782.0 L1267.4 784.0 L1267.8 785.9 L1268.1 787.9 L1268.5 789.9 L1268.9 791.9 L1269.2 793.8 L1269.6 795.8 L1269.9 797.8 L1270.3 799.7 L1270.6 801.7 L1271.0 803.7 L1271.4 805.6 L1271.7 807.6 L1272.1 809.6 L1272.4 811.6 L1272.8 813.5 L1273.2 815.5 L1273.5 817.5 L1273.9 819.4 L1274.2 821.4 L1274.6 823.4 L1275.0 825.3 L1275.3 827.3 L1275.7 829.3 L1276.1 831.2 L1276.5 833.2 L1276.8 835.2 L1277.2 837.1 L1277.6 839.1 L1277.9 841.1 L1278.3 843.0 L1278.7 845.0 L1279.1 847.0 L1279.5 848.9 L1279.8 850.9 L1280.2 852.9 L1280.6 854.8 L1281.0 856.8 L1281.4 858.7 L1281.7 860.7 L1282.1 862.7 L1282.5 864.6 L1282.9 866.6 L1283.3 868.6 L1283.7 870.5 L1284.1 872.5 L1284.5 874.4 L1284.9 876.4 L1285.3 878.4 L1285.7 880.3 L1286.0 882.3 L1286.4 884.2 L1286.8 886.2 L1287.2 888.2 L1287.7 890.1 L1288.1 892.1 L1288.5 894.0 L1288.9 896.0 L1289.3 897.9 L1289.7 899.9 L1290.1 901.9 L1290.5 903.8 L1290.9 905.8 L1291.3 907.7 L1291.8 909.7 L1292.2 911.6 L1292.6 913.6 L1293.0 915.6 L1293.4 917.5 L1293.9 919.5 L1294.3 921.4 L1294.7 923.4 L1295.1 925.3 L1295.6 927.3 L1296.0 929.2 L1296.4 931.2 L1296.9 933.1 L1297.3 935.1 L1297.8 937.0 L1298.2 939.0 L1298.6 940.9 L1299.1 942.9 L1299.5 944.8 L1300.0 946.8 L1300.4 948.7 L1300.9 950.7 L1301.3 952.6 L1301.8 954.6 L1302.2 956.5 L1302.7 958.5 L1303.1 960.4 L1303.6 962.4 L1304.1 964.3 L1304.5 966.2 L1305.0 968.2 L1305.5 970.1 L1305.9 972.1 L1306.4 974.0 L1306.9 976.0 L1307.4 977.9 L1307.8 979.8 L1308.3 981.8 L1308.8 983.7 L1309.3 985.7 L1309.8 987.6 L1310.3 989.5 L1310.8 991.5 L1311.3 993.4 L1311.8 995.4 L1312.2 997.3 L1312.7 999.2 L1313.2 1001.2 L1313.8 1003.1 L1314.3 1005.0 L1314.8 1007.0 L1315.3 1008.9 L1315.8 1010.8 L1316.3 1012.8 L1316.8 1014.7 L1317.3 1016.6 L1317.9 1018.6 L1318.4 1020.5 L1318.9 1022.4 L1319.4 1024.4 L1320.0 1026.3 L1320.5 1028.2 L1321.0 1030.2 L1321.6 1032.1 L1322.1 1034.0 L1322.7 1035.9 L1323.2 1037.9 L1323.7 1039.8 L1324.3 1041.7 L1324.8 1043.7 L1325.4 1045.6 L1326.0 1047.5 L1326.5 1049.4 L1327.1 1051.4 L1327.6 1053.3 L1328.2 1055.2 L1328.8 1057.1 L1329.3 1059.0 L1329.9 1061.0 L1330.5 1062.9 L1331.1 1064.8 L1331.7 1066.7 L1332.2 1068.6 L1332.8 1070.6 L1333.4 1072.5 L1334.0 1074.4 L1334.6 1076.3 L1335.2 1078.2 L1335.8 1080.1 L1336.4 1082.1 L1337.0 1084.0 L1337.6 1085.9 L1338.2 1087.8 L1338.8 1089.7 L1339.5 1091.6 L1340.1 1093.5 L1340.7 1095.4 L1341.3 1097.3 L1342.0 1099.3 L1342.6 1101.2 L1343.2 1103.1 L1343.9 1105.0 L1344.5 1106.9 L1345.2 1108.7 L1345.9 1110.6 L1346.7 1112.4 L1347.5 1114.3 L1348.3 1116.1 L1349.2 1117.8 L1350.1 1119.5 L1351.1 1121.2 L1352.1 1122.9 L1353.2 1124.5 L1354.4 1126.1 L1355.7 1127.6 L1357.0 1129.1 L1358.3 1130.6 L1359.7 1132.1 L1361.2 1133.5 L1362.6 1135.0 L1364.1 1136.4 L1365.5 1137.9 L1367.0 1139.4 L1368.4 1140.9 L1369.8 1142.5 L1371.1 1144.1 L1372.5 1145.8 L1373.8 1147.4 L1375.1 1149.1 L1376.4 1150.8 L1377.6 1152.4 L1378.9 1154.0 L1380.2 1155.6 L1381.6 1157.1 L1382.9 1158.5 L1384.3 1159.8 L1385.8 1161.0 L1387.3 1162.1 L1388.8 1163.0 L1390.5 1163.8 L1392.2 1164.4 L1394.0 1164.9 L1395.9 1165.1 L1397.9 1165.2 L1399.9 1165.1 L1402.0 1164.8 L1404.1 1164.4 L1406.1 1163.9 L1408.1 1163.3 L1410.1 1162.6 L1412.0 1161.9 L1413.9 1161.1 L1415.7 1160.2 L1417.4 1159.2 L1419.2 1158.2 L1420.8 1157.2 L1422.5 1156.0 L1424.1 1154.9 L1425.6 1153.6 L1427.2 1152.4 L1428.7 1151.1 L1430.1 1149.7 L1431.6 1148.3 L1433.0 1146.9 L1434.4 1145.4 L1435.7 1143.9 L1437.1 1142.4 L1438.4 1140.9 L1439.7 1139.4 L1441.0 1137.8 L1442.3 1136.2 L1443.5 1134.6 L1444.8 1133.1 L1446.0 1131.5 L1447.3 1129.9 L1448.5 1128.3 L1449.7 1126.7 L1451.0 1125.1 L1452.2 1123.4 L1453.4 1121.8 L1454.6 1120.2 L1455.8 1118.6 L1457.0 1117.0 L1458.2 1115.3 L1459.3 1113.7 L1460.5 1112.0 L1461.6 1110.4 L1462.8 1108.8 L1463.9 1107.1 L1465.1 1105.4 L1466.2 1103.8 L1467.3 1102.1 L1468.5 1100.5 L1469.6 1098.8 L1470.7 1097.1 L1471.8 1095.4 L1472.9 1093.8 L1474.0 1092.1 L1475.0 1090.4 L1476.1 1088.7 L1477.2 1087.0 L1478.2 1085.3 L1479.3 1083.6 L1480.4 1081.9 L1481.4 1080.2 L1482.4 1078.5 L1483.5 1076.8 L1484.5 1075.1 L1485.5 1073.4 L1486.5 1071.6 L1487.6 1069.9 L1488.6 1068.2 L1489.6 1066.5 L1490.6 1064.7 L1491.6 1063.0 L1492.5 1061.3 L1493.5 1059.5 L1494.5 1057.8 L1495.5 1056.0 L1496.4 1054.3 L1497.4 1052.5 L1498.4 1050.8 L1499.3 1049.0 L1500.2 1047.3 L1501.2 1045.5 L1502.1 1043.7 L1503.1 1042.0 L1504.0 1040.2 L1504.9 1038.4 L1505.8 1036.7 L1506.8 1034.9 L1507.7 1033.1 L1508.6 1031.3 L1509.5 1029.6 L1510.4 1027.8 L1511.3 1026.0 L1512.2 1024.2 L1513.1 1022.4 L1513.9 1020.6 L1514.8 1018.8 L1515.7 1017.0 L1516.6 1015.2 L1517.4 1013.4 L1518.3 1011.6 L1519.2 1009.8 L1520.0 1008.0 L1520.9 1006.2 L1521.7 1004.4 L1522.6 1002.6 L1523.4 1000.8 L1524.3 999.0 L1525.1 997.1 L1525.9 995.3 L1526.8 993.5 L1527.6 991.7 L1528.4 989.9 L1529.3 988.0 L1530.1 986.2 L1530.9 984.4 L1531.7 982.6 L1532.5 980.7 L1533.4 978.9 L1534.2 977.1 L1535.0 975.2 L1535.8 973.4 L1536.6 971.6 L1537.4 969.7 L1538.2 967.9 L1539.0 966.1 L1539.8 964.2 L1540.6 962.4 L1541.4 960.5 L1542.2 958.7 L1543.0 956.8 L1543.7 955.0 L1544.5 953.2 L1545.3 951.3 L1546.1 949.5 L1546.9 947.6 L1547.7 945.8 L1548.4 943.9 L1549.2 942.1 L1550.0 940.2 L1550.8 938.4 L1551.5 936.5 L1552.3 934.7 L1553.1 932.8 L1553.9 931.0 L1554.6 929.1 L1555.4 927.3 L1556.2 925.4 L1556.9 923.5 L1557.7 921.7 L1558.5 919.8 L1559.2 918.0 L1560.0 916.1 L1560.8 914.3 L1561.5 912.4 L1562.3 910.6 L1563.1 908.7 L1563.8 906.8 L1564.6 905.0 L1565.4 903.1 L1566.1 901.3 L1566.9 899.4 L1567.7 897.6 L1568.4 895.7 L1569.2 893.9 L1569.9 892.0 L1570.7 890.1 L1571.5 888.3 L1572.3 886.4 L1573.0 884.6 L1573.8 882.7 L1574.6 880.9 L1575.3 879.0 L1576.1 877.2 L1576.9 875.3 L1577.6 873.5 L1578.4 871.6 L1579.2 869.8 L1580.0 867.9 L1580.7 866.1 L1581.5 864.2 L1582.3 862.4 L1583.1 860.5 L1583.9 858.7 L1584.6 856.8 L1585.4 855.0 L1586.2 853.1 L1587.0 851.3 L1587.8 849.5 L1588.6 847.6 L1589.4 845.8 L1590.2 843.9 L1591.0 842.1 L1591.8 840.3 L1592.6 838.4 L1593.4 836.6 L1594.2 834.8 L1595.0 832.9 L1595.8 831.1 L1596.6 829.3 L1597.4 827.4 L1598.3 825.6 L1599.1 823.8 L1599.9 822.0 L1600.7 820.1 L1601.6 818.3 L1602.4 816.5 L1603.2 814.7 L1604.1 812.9 L1604.9 811.1 L1605.7 809.2 L1606.6 807.4 L1607.4 805.6 L1608.3 803.8 L1609.1 802.0 L1610.0 800.2 L1610.9 798.4 L1611.7 796.6 L1612.6 794.8 L1613.5 793.0 L1614.3 791.2 L1615.2 789.4 L1616.1 787.6 L1617.0 785.8 L1617.9 784.1 L1618.8 782.3 L1619.7 780.5 L1620.6 778.7 L1621.5 776.9 L1622.4 775.2 L1623.3 773.4 L1624.2 771.6 L1625.2 769.8 L1626.1 768.1 L1627.0 766.3 L1628.0 764.6 L1628.9 762.8 L1629.9 761.0 L1630.8 759.3 L1631.8 757.5 L1632.8 755.8 L1633.7 754.0 L1634.7 752.3 L1635.7 750.5 L1636.7 748.8 L1637.7 747.1 L1638.7 745.3 L1639.7 743.6 L1640.7 741.9 L1641.7 740.1 L1642.7 738.4 L1643.8 736.7 L1644.8 735.0 L1645.9 733.2 L1646.9 731.5 L1648.0 729.8 L1649.0 728.1 L1650.1 726.4 L1651.2 724.7 L1652.2 723.0 L1653.3 721.3 L1654.4 719.6 L1655.5 717.9 L1656.7 716.2 L1657.8 714.5 L1658.9 712.9 L1660.1 711.2 L1661.2 709.5 L1662.4 707.9 L1663.6 706.3 L1664.8 704.7 L1666.0 703.1 L1667.2 701.5 L1668.5 699.9 L1669.8 698.4 L1671.1 696.9 L1672.4 695.4 L1673.8 693.9 L1675.1 692.5 L1676.5 691.1 L1678.0 689.7 L1679.4 688.4 L1680.9 687.1 L1682.4 685.8 L1684.0 684.6 L1685.5 683.4 L1687.2 682.2 L1688.8 681.1 L1690.5 680.0 L1692.2 678.9 L1693.9 677.9 L1695.7 677.0 L1697.5 676.1 L1699.4 675.2 L1701.3 674.4 L1703.2 673.7 L1705.2 673.0 L1707.2 672.3 L1709.2 671.8 L1711.2 671.2 L1713.2 670.8 L1715.3 670.4 L1717.3 670.1 L1719.3 669.9 L1721.4 669.8 L1723.4 669.8 L1725.4 669.8 L1727.3 669.9 L1729.3 670.2 L1731.2 670.5 L1733.1 670.9 L1735.0 671.4 L1736.9 672.0 L1738.7 672.6 L1740.6 673.3 L1742.4 674.1 L1744.1 674.9 L1745.9 675.8 L1747.7 676.8 L1749.4 677.8 L1751.1 678.9 L1752.7 680.0 L1754.4 681.1 L1756.0 682.3 L1757.7 683.6 L1759.3 684.8 L1760.8 686.1 L1762.4 687.5 L1763.9 688.8 L1765.4 690.2 L1766.9 691.6 L1768.4 693.0 L1769.9 694.4 L1771.3 695.8 L1772.7 697.2 L1774.1 698.7 L1775.5 700.1 L1776.9 701.5 L1778.3 703.0 L1779.7 704.4 L1781.0 705.8 L1782.4 707.3 L1783.8 708.7 L1785.2 710.1 L1786.6 711.5 L1788.0 712.9"/>
<path stroke="#0068e0" d="M233.0 828.1 L235.0 828.2 L237.0 828.4 L239.0 828.6 L241.0 828.7 L242.9 828.9 L244.9 829.1 L246.9 829.2 L248.9 829.4 L250.9 829.6 L252.9 829.7 L254.9 829.9 L256.9 830.1 L258.9 830.3 L260.9 830.4 L262.9 830.6 L264.9 830.8 L266.9 831.0 L268.9 831.2 L270.8 831.4 L272.8 831.6 L274.8 831.8 L276.8 832.1 L278.8 832.3 L280.8 832.5 L282.8 832.8 L284.8 833.0 L286.8 833.3 L288.8 833.5 L290.8 833.8 L292.8 834.1 L294.7 834.4 L296.7 834.7 L298.7 835.0 L300.7 835.3 L302.7 835.6 L304.6 835.9 L306.6 836.3 L308.6 836.6 L310.6 837.0 L312.5 837.4 L314.5 837.8 L316.4 838.2 L318.4 838.6 L320.4 839.0 L322.3 839.5 L324.2 839.9 L326.2 840.4 L328.1 840.9 L330.1 841.4 L332.0 841.9 L333.9 842.4 L335.8 842.9 L337.8 843.5 L339.7 844.0 L341.6 844.6 L343.5 845.2 L345.4 845.8 L347.3 846.4 L349.2 847.0 L351.1 847.6 L353.0 848.3 L354.9 848.9 L356.8 849.6 L358.7 850.2 L360.6 850.9 L362.5 851.6 L364.3 852.3 L366.2 852.9 L368.1 853.6 L370.0 854.3 L371.9 855.0 L373.7 855.7 L375.6 856.4 L377.5 857.1 L379.4 857.8 L381.2 858.6 L383.1 859.3 L385.0 860.0 L386.9 860.7 L388.7 861.4 L390.6 862.1 L392.5 862.8 L394.4 863.6 L396.2 864.3 L398.1 865.0 L400.0 865.7 L401.9 866.4 L403.7 867.1 L405.6 867.8 L407.5 868.5 L409.4 869.1 L411.3 869.8 L413.2 870.5 L415.0 871.1 L416.9 871.8 L418.8 872.4 L420.7 873.1 L422.6 873.7 L424.5 874.3 L426.4 874.9 L428.3 875.5 L430.2 876.1 L432.1 876.7 L434.0 877.3 L436.0 877.8 L437.9 878.4 L439.8 878.9 L441.7 879.5 L443.6 880.0 L445.6 880.5 L447.5 881.0 L449.4 881.5 L451.4 882.0 L453.3 882.5 L455.2 882.9 L457.2 883.4 L459.1 883.9 L461.1 884.3 L463.0 884.7 L465.0 885.2 L466.9 885.6 L468.9 886.0 L470.8 886.4 L472.8 886.8 L474.8 887.2 L476.7 887.6 L478.7 888.0 L480.6 888.4 L482.6 888.8 L484.6 889.1 L486.6 889.5 L488.5 889.8 L490.5 890.2 L492.5 890.5 L494.4 890.9 L496.4 891.2 L498.4 891.5 L500.4 891.9 L502.4 892.2 L504.3 892.5 L506.3 892.8 L508.3 893.1 L510.3 893.5 L512.3 893.8 L514.3 894.1 L516.2 894.4 L518.2 894.7 L520.2 895.0 L522.2 895.3 L524.2 895.6 L526.2 895.9 L528.1 896.2 L530.1 896.6 L532.1 896.9 L534.1 897.2 L536.1 897.5 L538.1 897.8 L540.0 898.2 L542.0 898.5 L544.0 898.8 L546.0 899.2 L547.9 899.5 L549.9 899.9 L551.9 900.2 L553.9 900.6 L555.8 901.0 L557.8 901.3 L559.8 901.7 L561.7 902.1 L563.7 902.5 L565.6 902.9 L567.6 903.3 L569.5 903.7 L571.5 904.2 L573.4 904.6 L575.4 905.0 L577.3 905.5 L579.3 906.0 L581.2 906.4 L583.2 906.9 L585.1 907.4 L587.0 907.9 L588.9 908.5 L590.9 909.0 L592.8 909.6 L594.7 910.1 L596.6 910.7 L598.5 911.3 L600.4 911.9 L602.3 912.5 L604.2 913.1 L606.1 913.8 L608.0 914.4 L609.9 915.1 L611.8 915.8 L613.7 916.5 L615.5 917.2 L617.4 917.9 L619.3 918.6 L621.2 919.3 L623.0 920.0 L624.9 920.7 L626.8 921.4 L628.7 922.2 L630.5 922.9 L632.4 923.6 L634.3 924.4 L636.2 925.1 L638.0 925.8 L639.9 926.5 L641.8 927.2 L643.7 928.0 L645.6 928.7 L647.5 929.4 L649.4 930.1 L651.2 930.7 L653.1 931.4 L655.0 932.1 L656.9 932.7 L658.9 933.4 L660.8 934.0 L662.7 934.6 L664.6 935.2 L666.5 935.8 L668.5 936.4 L670.4 936.9 L672.3 937.5 L674.3 937.9 L676.2 938.4 L678.2 938.9 L680.1 939.2 L682.1 939.6 L684.0 939.9 L686.0 940.2 L688.0 940.4 L689.9 940.6 L691.9 940.7 L693.8 940.8 L695.8 940.8 L697.7 940.7 L699.7 940.6 L701.6 940.4 L703.6 940.1 L705.5 939.8 L707.5 939.4 L709.4 938.9 L711.3 938.4 L713.3 937.9 L715.2 937.3 L717.1 936.7 L719.0 936.1 L721.0 935.4 L722.9 934.7 L724.8 934.0 L726.7 933.3 L728.6 932.6 L730.5 931.9 L732.4 931.1 L734.3 930.4 L736.2 929.7 L738.0 928.9 L739.9 928.2 L741.7 927.4 L743.6 926.6 L745.4 925.8 L747.2 924.9 L749.0 924.1 L750.7 923.1 L752.5 922.2 L754.2 921.2 L755.9 920.2 L757.6 919.2 L759.3 918.1 L760.9 917.0 L762.5 915.9 L764.2 914.8 L765.8 913.6 L767.4 912.4 L769.0 911.3 L770.6 910.1 L772.2 908.9 L773.8 907.7 L775.4 906.5 L776.9 905.2 L778.5 904.0 L780.1 902.8 L781.7 901.6 L783.3 900.4 L784.9 899.2 L786.6 898.0 L788.2 896.9 L789.8 895.7 L791.5 894.6 L793.1 893.5 L794.8 892.4 L796.5 891.3 L798.2 890.2 L799.9 889.1 L801.6 888.1 L803.3 887.0 L805.1 886.0 L806.8 885.0 L808.5 883.9 L810.3 882.9 L812.0 881.9 L813.8 880.9 L815.5 879.9 L817.3 879.0 L819.1 878.0 L820.8 877.0 L822.6 876.0 L824.3 875.0 L826.1 874.0 L827.9 873.0 L829.6 872.0 L831.4 871.0 L833.1 870.0 L834.8 869.0 L836.6 868.0 L838.3 867.0 L840.0 866.0 L841.7 864.9 L843.5 863.9 L845.2 862.8 L846.8 861.8 L848.5 860.7 L850.2 859.6 L851.8 858.5 L853.5 857.3 L855.1 856.2 L856.7 855.0 L858.3 853.9 L859.9 852.7 L861.5 851.4 L863.0 850.2 L864.5 848.9 L866.1 847.7 L867.6 846.4 L869.0 845.0 L870.5 843.7 L871.9 842.3 L873.4 840.9 L874.8 839.5 L876.2 838.1 L877.6 836.7 L878.9 835.2 L880.3 833.7 L881.6 832.3 L882.9 830.8 L884.2 829.2 L885.5 827.7 L886.8 826.2 L888.1 824.6 L889.3 823.0 L890.6 821.5 L891.8 819.9 L893.0 818.3 L894.2 816.7 L895.4 815.0 L896.6 813.4 L897.7 811.8 L898.9 810.1 L900.0 808.5 L901.2 806.8 L902.3 805.1 L903.4 803.4 L904.5 801.7 L905.6 800.0 L906.6 798.3 L907.7 796.6 L908.7 794.9 L909.7 793.2 L910.7 791.4 L911.7 789.7 L912.7 787.9 L913.7 786.1 L914.7 784.4 L915.6 782.6 L916.5 780.8 L917.5 779.0 L918.4 777.2 L919.3 775.4 L920.2 773.6 L921.0 771.8 L921.9 770.0 L922.7 768.2 L923.6 766.4 L924.4 764.5 L925.2 762.7 L926.0 760.8 L926.7 759.0 L927.5 757.1 L928.3 755.3 L929.0 753.4 L929.7 751.6 L930.4 749.7 L931.1 747.8 L931.8 746.0 L932.5 744.1 L933.2 742.2 L933.8 740.3 L934.5 738.5 L935.1 736.6 L935.7 734.7 L936.3 732.8 L937.0 730.9 L937.6 729.0 L938.1 727.1 L938.7 725.2 L939.3 723.3 L939.9 721.4 L940.4 719.4 L941.0 717.5 L941.5 715.6 L942.1 713.7 L942.6 711.8 L943.1 709.8 L943.7 707.9 L944.2 706.0 L944.7 704.1 L945.2 702.1 L945.7 700.2 L946.2 698.3 L946.7 696.3 L947.2 694.4 L947.7 692.5 L948.2 690.5 L948.6 688.6 L949.1 686.6 L949.6 684.7 L950.1 682.7 L950.6 680.8 L951.0 678.9 L951.5 676.9 L952.0 675.0 L952.4 673.0 L952.9 671.1 L953.4 669.1 L953.9 667.2 L954.3 665.2 L954.8 663.3 L955.3 661.3 L955.8 659.4 L956.3 657.5 L956.8 655.5 L957.2 653.6 L957.7 651.6 L958.2 649.7 L958.7 647.7 L959.2 645.8 L959.7 643.9 L960.2 641.9 L960.8 640.0 L961.3 638.0 L961.8 636.1 L962.3 634.2 L962.9 632.2 L963.4 630.3 L964.0 628.4 L964.5 626.4 L965.1 624.5 L965.6 622.6 L966.2 620.6 L966.7 618.7 L967.3 616.8 L967.9 614.9 L968.4 612.9 L969.0 611.0 L969.6 609.1 L970.2 607.1 L970.7 605.2 L971.3 603.3 L971.9 601.4 L972.5 599.4 L973.0 597.5 L973.6 595.6 L974.2 593.7 L974.8 591.8 L975.4 589.8 L976.0 587.9 L976.5 586.0 L977.1 584.1 L977.7 582.1 L978.3 580.2 L978.9 578.3 L979.4 576.4 L980.0 574.4 L980.6 572.5 L981.2 570.6 L981.7 568.7 L982.3 566.7 L982.9 564.8 L983.4 562.9 L984.0 561.0 L984.5 559.0 L985.1 557.1 L985.6 555.2 L986.2 553.3 L986.7 551.3 L987.3 549.4 L987.8 547.5 L988.3 545.5 L988.9 543.6 L989.4 541.7 L989.9 539.8 L990.5 537.8 L991.0 535.9 L991.5 534.0 L992.0 532.0 L992.5 530.1 L993.0 528.2 L993.5 526.2 L994.1 524.3 L994.6 522.4 L995.1 520.4 L995.6 518.5 L996.1 516.6 L996.6 514.6 L997.1 512.7 L997.6 510.8 L998.1 508.8 L998.5 506.9 L999.0 505.0 L999.5 503.0 L1000.0 501.1 L1000.5 499.1 L1001.0 497.2 L1001.5 495.3 L1002.0 493.3 L1002.5 491.4 L1002.9 489.5 L1003.4 487.5 L1003.9 485.6 L1004.4 483.7 L1004.9 481.7 L1005.4 479.8 L1005.8 477.9 L1006.3 475.9 L1006.8 474.0 L1007.3 472.0 L1007.8 470.1 L1008.3 468.2 L1008.7 466.2 L1009.2 464.3 L1009.7 462.4 L1010.2 460.4 L1010.7 458.5 L1011.2 456.6 L1011.7 454.6 L1012.2 452.7 L1012.6 450.8 L1013.1 448.8 L1013.6 446.9 L1014.1 445.0 L1014.6 443.0 L1015.1 441.1 L1015.6 439.2 L1016.1 437.3 L1016.6 435.3 L1017.1 433.4 L1017.6 431.5 L1018.1 429.5 L1018.6 427.6 L1019.1 425.7 L1019.7 423.8 L1020.2 421.8 L1020.7 419.9 L1021.2 418.0 L1021.7 416.0 L1022.3 414.1 L1022.8 412.2 L1023.3 410.3 L1023.8 408.4 L1024.4 406.4 L1024.9 404.5 L1025.5 402.6 L1026.0 400.7 L1026.6 398.7 L1027.1 396.8 L1027.7 394.9 L1028.2 393.0 L1028.8 391.1 L1029.3 389.2 L1029.9 387.2 L1030.5 385.3 L1031.1 383.4 L1031.6 381.5 L1032.2 379.6 L1032.8 377.7 L1033.4 375.8 L1034.0 373.9 L1034.6 371.9 L1035.2 370.0 L1035.8 368.1 L1036.4 366.2 L1037.0 364.3 L1037.7 362.4 L1038.3 360.5 L1038.9 358.6 L1039.6 356.7 L1040.2 354.8 L1040.9 352.9 L1041.5 351.0 L1042.2 349.1 L1042.8 347.2 L1043.5 345.3 L1044.2 343.4 L1044.8 341.5 L1045.5 339.6 L1046.2 337.7 L1046.9 335.9 L1047.6 334.0 L1048.3 332.1 L1049.0 330.2 L1049.8 328.3 L1050.5 326.4 L1051.2 324.5 L1052.0 322.7 L1052.7 320.8 L1053.5 318.9 L1054.2 317.0 L1055.0 315.1 L1055.8 313.3 L1056.5 311.4 L1057.3 309.5 L1058.1 307.7 L1058.9 305.8 L1059.7 303.9 L1060.5 302.0 L1061.4 300.2 L1062.2 298.3 L1063.0 296.5 L1063.9 294.6 L1064.7 292.7 L1065.6 290.9 L1066.4 289.0 L1067.3 287.2 L1068.2 285.3 L1069.1 283.5 L1070.0 281.6 L1070.9 279.8 L1071.8 277.9 L1072.7 276.1 L1073.7 274.2 L1074.6 272.4 L1075.6 270.6 L1076.6 268.9 L1077.7 267.1 L1078.7 265.4 L1079.8 263.8 L1080.9 262.2 L1082.1 260.6 L1083.3 259.1 L1084.5 257.7 L1085.8 256.3 L1087.2 255.0 L1088.6 253.7 L1090.0 252.5 L1091.5 251.5 L1093.1 250.5 L1094.8 249.6 L1096.5 248.8 L1098.2 248.1 L1100.1 247.5 L1102.0 247.0 L1104.0 246.6 L1106.0 246.3 L1108.0 246.2 L1110.1 246.1 L1112.2 246.2 L1114.2 246.3 L1116.2 246.6 L1118.2 247.0 L1120.2 247.4 L1122.1 248.0 L1123.9 248.6 L1125.7 249.4 L1127.4 250.2 L1129.0 251.2 L1130.6 252.2 L1132.2 253.3 L1133.7 254.5 L1135.2 255.7 L1136.6 257.0 L1137.9 258.4 L1139.3 259.8 L1140.5 261.3 L1141.8 262.8 L1143.0 264.4 L1144.2 266.1 L1145.3 267.8 L1146.4 269.5 L1147.5 271.3 L1148.5 273.0 L1149.6 274.9 L1150.6 276.7 L1151.5 278.6 L1152.5 280.5 L1153.4 282.4 L1154.3 284.3 L1155.2 286.2 L1156.1 288.1 L1157.0 290.0 L1157.8 292.0 L1158.7 293.9 L1159.5 295.8 L1160.3 297.7 L1161.1 299.6 L1161.9 301.5 L1162.7 303.4 L1163.4 305.3 L1164.2 307.2 L1165.0 309.1 L1165.7 311.0 L1166.4 312.9 L1167.2 314.8 L1167.9 316.7 L1168.6 318.6 L1169.3 320.5 L1170.0 322.4 L1170.6 324.3 L1171.3 326.2 L1172.0 328.1 L1172.6 330.0 L1173.3 331.8 L1173.9 333.7 L1174.6 335.6 L1175.2 337.5 L1175.8 339.4 L1176.4 341.3 L1177.1 343.2 L1177.7 345.1 L1178.3 346.9 L1178.9 348.8 L1179.5 350.7 L1180.1 352.6 L1180.7 354.5 L1181.2 356.4 L1181.8 358.3 L1182.4 360.2 L1183.0 362.1 L1183.6 364.0 L1184.1 365.9 L1184.7 367.8 L1185.3 369.7 L1185.8 371.6 L1186.4 373.5 L1187.0 375.4 L1187.5 377.3 L1188.1 379.2 L1188.7 381.1 L1189.2 383.0 L1189.8 384.9 L1190.3 386.8 L1190.9 388.7 L1191.4 390.6 L1191.9 392.5 L1192.5 394.4 L1193.0 396.3 L1193.6 398.3 L1194.1 400.2 L1194.6 402.1 L1195.2 404.0 L1195.7 405.9 L1196.2 407.8 L1196.7 409.8 L1197.3 411.7 L1197.8 413.6 L1198.3 415.5 L1198.8 417.4 L1199.3 419.4 L1199.9 421.3 L1200.4 423.2 L1200.9 425.1 L1201.4 427.1 L1201.9 429.0 L1202.4 430.9 L1202.9 432.8 L1203.4 434.8 L1203.9 436.7 L1204.4 438.6 L1204.9 440.6 L1205.4 442.5 L1205.9 444.4 L1206.3 446.4 L1206.8 448.3 L1207.3 450.2 L1207.8 452.2 L1208.3 454.1 L1208.8 456.0 L1209.2 458.0 L1209.7 459.9 L1210.2 461.9 L1210.7 463.8 L1211.1 465.7 L1211.6 467.7 L1212.1 469.6 L1212.5 471.6 L1213.0 473.5 L1213.4 475.5 L1213.9 477.4 L1214.4 479.4 L1214.8 481.3 L1215.3 483.3 L1215.7 485.2 L1216.2 487.2 L1216.6 489.1 L1217.1 491.1 L1217.5 493.0 L1218.0 495.0 L1218.4 496.9 L1218.9 498.9 L1219.3 500.8 L1219.7 502.8 L1220.2 504.7 L1220.6 506.7 L1221.1 508.6 L1221.5 510.6 L1221.9 512.5 L1222.4 514.5 L1222.8 516.5 L1223.2 518.4 L1223.6 520.4 L1224.1 522.3 L1224.5 524.3 L1224.9 526.3 L1225.3 528.2 L1225.8 530.2 L1226.2 532.1 L1226.6 534.1 L1227.0 536.1 L1227.4 538.0 L1227.8 540.0 L1228.2 542.0 L1228.7 543.9 L1229.1 545.9 L1229.5 547.9 L1229.9 549.8 L1230.3 551.8 L1230.7 553.8 L1231.1 555.7 L1231.5 557.7 L1231.9 559.7 L1232.3 561.6 L1232.7 563.6 L1233.1 565.6 L1233.5 567.5 L1233.9 569.5 L1234.3 571.5 L1234.7 573.4 L1235.1 575.4 L1235.4 577.4 L1235.8 579.4 L1236.2 581.3 L1236.6 583.3 L1237.0 585.3 L1237.4 587.2 L1237.8 589.2 L1238.2 591.2 L1238.5 593.2 L1238.9 595.1 L1239.3 597.1 L1239.7 599.1 L1240.1 601.1 L1240.4 603.0 L1240.8 605.0 L1241.2 607.0 L1241.6 609.0 L1241.9 610.9 L1242.3 612.9 L1242.7 614.9 L1243.1 616.9 L1243.4 618.9 L1243.8 620.8 L1244.2 622.8 L1244.5 624.8 L1244.9 626.8 L1245.3 628.7 L1245.6 630.7 L1246.0 632.7 L1246.4 634.7 L1246.7 636.7 L1247.1 638.6 L1247.5 640.6 L1247.8 642.6 L1248.2 644.6 L1248.5 646.6 L1248.9 648.5 L1249.3 650.5 L1249.6 652.5 L1250.0 654.5 L1250.3 656.5 L1250.7 658.4 L1251.0 660.4 L1251.4 662.4 L1251.7 664.4 L1252.1 666.4 L1252.5 668.3 L1252.8 670.3 L1253.2 672.3 L1253.5 674.3 L1253.9 676.3 L1254.2 678.2 L1254.6 680.2 L1254.9 682.2 L1255.3 684.2 L1255.6 686.2 L1256.0 688.1 L1256.3 690.1 L1256.7 692.1 L1257.0 694.1 L1257.3 696.1 L1257.7 698.0 L1258.0 700.0 L1258.4 702.0 L1258.7 704.0 L1259.1 706.0 L1259.4 707.9 L1259.8 709.9 L1260.1 711.9 L1260.5 713.9 L1260.8 715.9 L1261.1 717.8 L1261.5 719.8 L1261.8 721.8 L1262.2 723.8 L1262.5 725.8 L1262.8 727.7 L1263.2 729.7 L1263.5 731.7 L1263.9 733.7 L1264.2 735.6 L1264.6 737.6 L1264.9 739.6 L1265.2 741.6 L1265.6 743.6 L1265.9 745.5 L1266.3 747.5 L1266.6 749.5 L1266.9 751.5 L1267.3 753.4 L1267.6 755.4 L1268.0 757.4 L1268.3 759.4 L1268.6 761.3 L1269.0 763.3 L1269.3 765.3 L1269.7 767.3 L1270.0 769.2 L1270.3 771.2 L1270.7 773.2 L1271.0 775.2 L1271.4 777.1 L1271.7 779.1 L1272.0 781.1 L1272.4 783.1 L1272.7 785.0 L1273.1 787.0 L1273.4 789.0 L1273.7 790.9 L1274.1 792.9 L1274.4 794.9 L1274.8 796.8 L1275.1 798.8 L1275.4 800.8 L1275.8 802.8 L1276.1 804.7 L1276.5 806.7 L1276.8 808.7 L1277.2 810.6 L1277.5 812.6 L1277.8 814.6 L1278.2 816.5 L1278.5 818.5 L1278.9 820.4 L1279.2 822.4 L1279.6 824.4 L1279.9 826.3 L1280.3 828.3 L1280.6 830.3 L1281.0 832.2 L1281.3 834.2 L1281.6 836.2 L1282.0 838.1 L1282.3 840.1 L1282.7 842.0 L1283.1 844.0 L1283.4 846.0 L1283.8 847.9 L1284.1 849.9 L1284.5 851.8 L1284.8 853.8 L1285.2 855.8 L1285.5 857.7 L1285.9 859.7 L1286.3 861.6 L1286.6 863.6 L1287.0 865.5 L1287.3 867.5 L1287.7 869.4 L1288.1 871.4 L1288.4 873.4 L1288.8 875.3 L1289.2 877.3 L1289.5 879.2 L1289.9 881.2 L1290.3 883.1 L1290.6 885.1 L1291.0 887.0 L1291.4 889.0 L1291.8 890.9 L1292.1 892.9 L1292.5 894.8 L1292.9 896.8 L1293.3 898.7 L1293.7 900.7 L1294.1 902.6 L1294.4 904.6 L1294.8 906.5 L1295.2 908.5 L1295.6 910.4 L1296.0 912.4 L1296.4 914.3 L1296.8 916.3 L1297.2 918.2 L1297.6 920.2 L1298.0 922.1 L1298.4 924.1 L1298.8 926.0 L1299.2 928.0 L1299.6 929.9 L1300.0 931.9 L1300.4 933.8 L1300.8 935.8 L1301.2 937.7 L1301.7 939.6 L1302.1 941.6 L1302.5 943.5 L1302.9 945.5 L1303.3 947.4 L1303.8 949.4 L1304.2 951.3 L1304.6 953.3 L1305.1 955.2 L1305.5 957.1 L1305.9 959.1 L1306.4 961.0 L1306.8 963.0 L1307.2 964.9 L1307.7 966.8 L1308.1 968.8 L1308.6 970.7 L1309.0 972.7 L1309.5 974.6 L1309.9 976.5 L1310.4 978.5 L1310.9 980.4 L1311.3 982.4 L1311.8 984.3 L1312.3 986.2 L1312.7 988.2 L1313.2 990.1 L1313.7 992.1 L1314.2 994.0 L1314.6 995.9 L1315.1 997.9 L1315.6 999.8 L1316.1 1001.7 L1316.6 1003.7 L1317.1 1005.6 L1317.6 1007.6 L1318.1 1009.5 L1318.6 1011.4 L1319.1 1013.4 L1319.6 1015.3 L1320.1 1017.2 L1320.6 1019.2 L1321.1 1021.1 L1321.7 1023.0 L1322.2 1025.0 L1322.7 1026.9 L1323.2 1028.8 L1323.8 1030.8 L1324.3 1032.7 L1324.8 1034.6 L1325.4 1036.6 L1325.9 1038.5 L1326.5 1040.4 L1327.0 1042.4 L1327.6 1044.3 L1328.1 1046.2 L1328.7 1048.2 L1329.3 1050.1 L1329.8 1052.0 L1330.4 1054.0 L1331.0 1055.9 L1331.6 1057.8 L1332.1 1059.7 L1332.7 1061.7 L1333.3 1063.6 L1333.9 1065.5 L1334.5 1067.5 L1335.1 1069.4 L1335.7 1071.3 L1336.3 1073.3 L1336.9 1075.2 L1337.5 1077.1 L1338.1 1079.0 L1338.7 1081.0 L1339.4 1082.9 L1340.0 1084.8 L1340.6 1086.8 L1341.2 1088.7 L1341.9 1090.6 L1342.5 1092.5 L1343.2 1094.5 L1343.8 1096.4 L1344.5 1098.3 L1345.1 1100.3 L1345.8 1102.2 L1346.5 1104.1 L1347.1 1106.0 L1347.8 1108.0 L1348.5 1109.9 L1349.2 1111.8 L1349.8 1113.7 L1350.5 1115.7 L1351.2 1117.6 L1351.9 1119.5 L1352.6 1121.4 L1353.3 1123.4 L1354.0 1125.3 L1354.7 1127.2 L1355.5 1129.1 L1356.2 1131.1 L1356.9 1133.0 L1357.6 1134.9 L1358.4 1136.8 L1359.1 1138.8 L1359.9 1140.7 L1360.6 1142.6 L1361.4 1144.5 L1362.1 1146.5 L1362.9 1148.4 L1363.7 1150.2 L1364.5 1152.1 L1365.4 1154.0 L1366.2 1155.8 L1367.1 1157.6 L1368.0 1159.3 L1369.0 1161.0 L1370.0 1162.7 L1371.1 1164.3 L1372.2 1165.9 L1373.3 1167.4 L1374.5 1168.9 L1375.7 1170.3 L1377.0 1171.6 L1378.4 1172.9 L1379.8 1174.1 L1381.3 1175.2 L1382.9 1176.3 L1384.6 1177.2 L1386.3 1178.1 L1388.1 1178.9 L1389.9 1179.5 L1391.8 1180.1 L1393.8 1180.6 L1395.7 1180.9 L1397.7 1181.2 L1399.7 1181.3 L1401.7 1181.2 L1403.7 1181.1 L1405.7 1180.8 L1407.6 1180.4 L1409.6 1179.8 L1411.5 1179.2 L1413.4 1178.4 L1415.2 1177.6 L1417.0 1176.7 L1418.8 1175.7 L1420.6 1174.7 L1422.3 1173.6 L1424.0 1172.5 L1425.6 1171.4 L1427.2 1170.2 L1428.8 1169.0 L1430.4 1167.8 L1431.9 1166.6 L1433.4 1165.3 L1434.9 1163.9 L1436.3 1162.6 L1437.7 1161.2 L1439.1 1159.8 L1440.5 1158.4 L1441.8 1156.9 L1443.1 1155.4 L1444.4 1153.9 L1445.7 1152.4 L1447.0 1150.8 L1448.2 1149.3 L1449.4 1147.7 L1450.6 1146.1 L1451.8 1144.5 L1452.9 1142.8 L1454.1 1141.2 L1455.2 1139.5 L1456.3 1137.8 L1457.4 1136.1 L1458.5 1134.4 L1459.6 1132.7 L1460.7 1131.0 L1461.7 1129.3 L1462.8 1127.5 L1463.8 1125.8 L1464.9 1124.0 L1465.9 1122.3 L1466.9 1120.5 L1467.9 1118.8 L1468.9 1117.0 L1470.0 1115.3 L1471.0 1113.5 L1472.0 1111.7 L1473.0 1110.0 L1473.9 1108.2 L1474.9 1106.4 L1475.9 1104.7 L1476.9 1102.9 L1477.9 1101.1 L1478.8 1099.4 L1479.8 1097.6 L1480.8 1095.8 L1481.7 1094.0 L1482.7 1092.2 L1483.6 1090.5 L1484.6 1088.7 L1485.5 1086.9 L1486.4 1085.1 L1487.4 1083.3 L1488.3 1081.5 L1489.2 1079.8 L1490.2 1078.0 L1491.1 1076.2 L1492.0 1074.4 L1492.9 1072.6 L1493.8 1070.8 L1494.7 1069.0 L1495.6 1067.2 L1496.5 1065.4 L1497.4 1063.6 L1498.3 1061.8 L1499.2 1060.0 L1500.1 1058.2 L1501.0 1056.4 L1501.8 1054.6 L1502.7 1052.8 L1503.6 1051.0 L1504.5 1049.2 L1505.3 1047.3 L1506.2 1045.5 L1507.0 1043.7 L1507.9 1041.9 L1508.8 1040.1 L1509.6 1038.3 L1510.5 1036.5 L1511.3 1034.6 L1512.2 1032.8 L1513.0 1031.0 L1513.8 1029.2 L1514.7 1027.4 L1515.5 1025.5 L1516.3 1023.7 L1517.2 1021.9 L1518.0 1020.1 L1518.8 1018.3 L1519.6 1016.4 L1520.5 1014.6 L1521.3 1012.8 L1522.1 1010.9 L1522.9 1009.1 L1523.7 1007.3 L1524.5 1005.5 L1525.4 1003.6 L1526.2 1001.8 L1527.0 1000.0 L1527.8 998.1 L1528.6 996.3 L1529.4 994.5 L1530.2 992.6 L1531.0 990.8 L1531.8 989.0 L1532.6 987.1 L1533.4 985.3 L1534.1 983.5 L1534.9 981.6 L1535.7 979.8 L1536.5 977.9 L1537.3 976.1 L1538.1 974.3 L1538.9 972.4 L1539.7 970.6 L1540.4 968.8 L1541.2 966.9 L1542.0 965.1 L1542.8 963.2 L1543.6 961.4 L1544.3 959.5 L1545.1 957.7 L1545.9 955.9 L1546.7 954.0 L1547.4 952.2 L1548.2 950.3 L1549.0 948.5 L1549.8 946.7 L1550.5 944.8 L1551.3 943.0 L1552.1 941.1 L1552.8 939.3 L1553.6 937.4 L1554.4 935.6 L1555.2 933.8 L1555.9 931.9 L1556.7 930.1 L1557.5 928.2 L1558.2 926.4 L1559.0 924.5 L1559.8 922.7 L1560.5 920.8 L1561.3 919.0 L1562.1 917.2 L1562.9 915.3 L1563.6 913.5 L1564.4 911.6 L1565.2 909.8 L1565.9 907.9 L1566.7 906.1 L1567.5 904.3 L1568.3 902.4 L1569.0 900.6 L1569.8 898.7 L1570.6 896.9 L1571.4 895.1 L1572.1 893.2 L1572.9 891.4 L1573.7 889.5 L1574.5 887.7 L1575.2 885.9 L1576.0 884.0 L1576.8 882.2 L1577.6 880.3 L1578.4 878.5 L1579.2 876.7 L1579.9 874.8 L1580.7 873.0 L1581.5 871.2 L1582.3 869.3 L1583.1 867.5 L1583.9 865.7 L1584.7 863.8 L1585.5 862.0 L1586.3 860.2 L1587.1 858.3 L1587.9 856.5 L1588.7 854.7 L1589.5 852.8 L1590.3 851.0 L1591.1 849.2 L1591.9 847.4 L1592.7 845.5 L1593.5 843.7 L1594.3 841.9 L1595.2 840.1 L1596.0 838.2 L1596.8 836.4 L1597.6 834.6 L1598.4 832.8 L1599.3 830.9 L1600.1 829.1 L1600.9 827.3 L1601.8 825.5 L1602.6 823.7 L1603.4 821.9 L1604.3 820.0 L1605.1 818.2 L1606.0 816.4 L1606.8 814.6 L1607.7 812.8 L1608.5 811.0 L1609.4 809.2 L1610.2 807.4 L1611.1 805.6 L1612.0 803.8 L1612.8 802.0 L1613.7 800.1 L1614.6 798.3 L1615.5 796.5 L1616.3 794.7 L1617.2 792.9 L1618.1 791.2 L1619.0 789.4 L1619.9 787.6 L1620.8 785.8 L1621.7 784.0 L1622.6 782.2 L1623.5 780.4 L1624.4 778.6 L1625.3 776.8 L1626.2 775.0 L1627.2 773.3 L1628.1 771.5 L1629.0 769.7 L1630.0 767.9 L1630.9 766.1 L1631.9 764.4 L1632.8 762.6 L1633.8 760.8 L1634.7 759.1 L1635.7 757.3 L1636.7 755.6 L1637.7 753.8 L1638.6 752.1 L1639.6 750.3 L1640.6 748.6 L1641.7 746.8 L1642.7 745.1 L1643.7 743.3 L1644.7 741.6 L1645.7 739.9 L1646.8 738.2 L1647.8 736.4 L1648.9 734.7 L1650.0 733.0 L1651.0 731.3 L1652.1 729.6 L1653.2 727.9 L1654.3 726.2 L1655.4 724.5 L1656.5 722.8 L1657.6 721.2 L1658.8 719.5 L1659.9 717.8 L1661.1 716.1 L1662.2 714.5 L1663.4 712.8 L1664.6 711.2 L1665.8 709.6 L1667.0 708.0 L1668.3 706.4 L1669.5 704.8 L1670.8 703.3 L1672.1 701.8 L1673.4 700.3 L1674.8 698.8 L1676.1 697.3 L1677.5 695.9 L1678.9 694.5 L1680.4 693.2 L1681.9 691.9 L1683.4 690.6 L1684.9 689.3 L1686.5 688.1 L1688.1 687.0 L1689.7 685.9 L1691.4 684.8 L1693.1 683.7 L1694.8 682.7 L1696.5 681.8 L1698.3 680.9 L1700.1 680.0 L1701.9 679.2 L1703.7 678.4 L1705.6 677.7 L1707.5 677.0 L1709.4 676.4 L1711.3 675.8 L1713.2 675.2 L1715.2 674.8 L1717.2 674.3 L1719.2 673.9 L1721.2 673.6 L1723.2 673.3 L1725.2 673.1 L1727.2 672.9 L1729.3 672.8 L1731.3 672.7 L1733.3 672.7 L1735.4 672.7 L1737.4 672.8 L1739.4 672.9 L1741.4 673.1 L1743.4 673.4 L1745.4 673.7 L1747.4 674.1 L1749.4 674.5 L1751.3 675.0 L1753.2 675.5 L1755.1 676.1 L1757.0 676.8 L1758.8 677.5 L1760.7 678.3 L1762.4 679.2 L1764.2 680.1 L1765.9 681.1 L1767.6 682.1 L1769.2 683.2 L1770.8 684.4 L1772.4 685.6 L1773.9 686.9 L1775.3 688.2 L1776.8 689.6 L1778.1 691.1 L1779.5 692.6 L1780.8 694.2 L1782.1 695.8 L1783.3 697.4 L1784.5 699.1 L1785.6 700.8 L1786.7 702.5 L1788.0 704.3"/>
<path stroke="#00aa5e" d="M233.0 827.1 L235.0 827.2 L237.0 827.4 L239.0 827.5 L241.0 827.7 L243.0 827.8 L245.0 828.0 L247.0 828.2 L249.0 828.3 L251.0 828.5 L253.0 828.7 L255.0 828.9 L257.0 829.1 L259.0 829.3 L261.0 829.5 L262.9 829.7 L264.9 829.9 L266.9 830.1 L268.9 830.3 L270.9 830.6 L272.9 830.8 L274.9 831.0 L276.9 831.3 L278.9 831.5 L280.8 831.8 L282.8 832.1 L284.8 832.3 L286.8 832.6 L288.8 832.9 L290.8 833.2 L292.7 833.5 L294.7 833.8 L296.7 834.2 L298.7 834.5 L300.6 834.8 L302.6 835.2 L304.6 835.5 L306.5 835.9 L308.5 836.3 L310.4 836.6 L312.4 837.0 L314.4 837.4 L316.3 837.8 L318.3 838.3 L320.2 838.7 L322.2 839.1 L324.1 839.6 L326.1 840.0 L328.0 840.5 L330.0 841.0 L331.9 841.5 L333.8 842.0 L335.8 842.5 L337.7 843.0 L339.6 843.5 L341.5 844.1 L343.5 844.6 L345.4 845.2 L347.3 845.7 L349.2 846.3 L351.1 846.9 L353.0 847.5 L355.0 848.1 L356.9 848.7 L358.8 849.3 L360.7 849.9 L362.6 850.6 L364.5 851.2 L366.4 851.8 L368.3 852.5 L370.2 853.1 L372.1 853.8 L374.0 854.4 L375.9 855.1 L377.8 855.8 L379.7 856.4 L381.5 857.1 L383.4 857.8 L385.3 858.5 L387.2 859.1 L389.1 859.8 L391.0 860.5 L392.9 861.2 L394.8 861.9 L396.7 862.5 L398.6 863.2 L400.4 863.9 L402.3 864.6 L404.2 865.3 L406.1 865.9 L408.0 866.6 L409.9 867.3 L411.8 868.0 L413.7 868.6 L415.6 869.3 L417.5 869.9 L419.4 870.6 L421.2 871.3 L423.1 871.9 L425.0 872.5 L426.9 873.2 L428.8 873.8 L430.7 874.4 L432.6 875.1 L434.5 875.7 L436.4 876.3 L438.4 876.9 L440.3 877.5 L442.2 878.0 L444.1 878.6 L446.0 879.2 L447.9 879.7 L449.8 880.3 L451.7 880.8 L453.7 881.3 L455.6 881.9 L457.5 882.4 L459.4 882.8 L461.4 883.3 L463.3 883.8 L465.3 884.3 L467.2 884.7 L469.1 885.1 L471.1 885.6 L473.0 886.0 L475.0 886.3 L476.9 886.7 L478.9 887.1 L480.9 887.4 L482.8 887.8 L484.8 888.1 L486.8 888.4 L488.7 888.7 L490.7 888.9 L492.7 889.2 L494.7 889.4 L496.7 889.7 L498.7 889.9 L500.6 890.1 L502.6 890.3 L504.6 890.5 L506.6 890.7 L508.6 890.9 L510.6 891.0 L512.6 891.2 L514.6 891.4 L516.6 891.5 L518.7 891.7 L520.7 891.8 L522.7 892.0 L524.0 891.2 L534.5 888.2 L546.0 894.6 L546.7 893.9 L548.7 894.1 L550.7 894.3 L552.7 894.5 L554.7 894.7 L556.7 895.0 L558.6 895.2 L560.6 895.5 L562.6 895.8 L564.6 896.1 L566.5 896.4 L568.5 896.7 L570.5 897.0 L572.4 897.4 L574.4 897.8 L576.3 898.2 L578.3 898.6 L580.2 899.0 L582.2 899.5 L584.1 900.0 L586.0 900.5 L587.9 901.0 L589.9 901.6 L591.8 902.1 L593.7 902.7 L595.6 903.3 L597.5 903.9 L599.4 904.5 L601.3 905.1 L603.2 905.8 L605.1 906.4 L607.0 907.1 L608.9 907.7 L610.8 908.4 L612.7 909.1 L614.5 909.8 L616.4 910.5 L618.3 911.2 L620.2 911.9 L622.1 912.6 L624.0 913.3 L625.8 914.0 L627.7 914.7 L629.6 915.4 L631.5 916.1 L633.4 916.8 L635.2 917.4 L637.1 918.1 L639.0 918.8 L640.9 919.5 L642.8 920.1 L644.7 920.8 L646.6 921.4 L648.5 922.0 L650.4 922.6 L652.3 923.2 L654.2 923.8 L656.1 924.4 L658.0 924.9 L659.9 925.5 L661.8 926.0 L663.8 926.5 L665.7 927.0 L667.6 927.4 L669.6 927.8 L671.5 928.3 L673.4 928.6 L675.4 929.0 L677.3 929.3 L679.3 929.6 L681.3 929.9 L683.3 930.2 L685.2 930.4 L687.2 930.6 L689.2 930.7 L691.2 930.9 L693.2 931.0 L695.2 931.0 L697.3 931.0 L699.3 931.0 L701.3 931.0 L703.3 930.9 L705.3 930.8 L707.4 930.6 L709.4 930.4 L711.4 930.2 L713.4 930.0 L715.4 929.7 L717.4 929.3 L719.4 929.0 L721.4 928.6 L723.3 928.1 L725.3 927.6 L727.2 927.1 L729.1 926.5 L731.1 925.9 L732.9 925.3 L734.8 924.6 L736.7 923.9 L738.5 923.2 L740.4 922.4 L742.2 921.6 L744.0 920.7 L745.8 919.8 L747.6 918.9 L749.3 918.0 L751.1 917.0 L752.8 916.0 L754.5 915.0 L756.2 914.0 L757.9 912.9 L759.6 911.8 L761.3 910.7 L762.9 909.6 L764.6 908.5 L766.2 907.3 L767.8 906.1 L769.4 904.9 L771.0 903.7 L772.6 902.5 L774.2 901.3 L775.7 900.0 L777.3 898.8 L778.9 897.5 L780.4 896.3 L781.9 895.0 L783.5 893.7 L785.0 892.5 L786.6 891.2 L788.1 889.9 L789.7 888.7 L791.2 887.4 L792.8 886.2 L794.3 884.9 L795.9 883.7 L797.5 882.5 L799.1 881.3 L800.7 880.1 L802.3 878.9 L804.0 877.8 L805.7 876.6 L807.3 875.5 L809.0 874.4 L810.7 873.3 L812.4 872.2 L814.1 871.1 L815.8 870.0 L817.5 868.9 L819.2 867.8 L820.9 866.8 L822.7 865.7 L824.4 864.6 L826.1 863.5 L827.8 862.4 L829.5 861.4 L831.2 860.3 L832.9 859.2 L834.6 858.0 L836.3 856.9 L838.0 855.8 L839.6 854.7 L841.3 853.5 L842.9 852.3 L844.5 851.1 L846.1 849.9 L847.7 848.7 L849.3 847.4 L850.8 846.2 L852.3 844.9 L853.9 843.6 L855.4 842.3 L856.9 841.0 L858.3 839.6 L859.8 838.2 L861.2 836.9 L862.7 835.5 L864.1 834.1 L865.5 832.6 L866.9 831.2 L868.2 829.7 L869.6 828.3 L870.9 826.8 L872.2 825.3 L873.6 823.8 L874.9 822.3 L876.1 820.8 L877.4 819.2 L878.7 817.7 L879.9 816.1 L881.2 814.5 L882.4 813.0 L883.6 811.4 L884.8 809.8 L886.0 808.1 L887.2 806.5 L888.3 804.9 L889.5 803.3 L890.6 801.6 L891.7 800.0 L892.9 798.3 L894.0 796.6 L895.1 795.0 L896.2 793.3 L897.2 791.6 L898.3 789.9 L899.4 788.2 L900.4 786.5 L901.4 784.8 L902.5 783.1 L903.5 781.4 L904.5 779.7 L905.5 777.9 L906.5 776.2 L907.4 774.5 L908.4 772.7 L909.4 771.0 L910.3 769.2 L911.3 767.5 L912.2 765.7 L913.1 764.0 L914.0 762.2 L914.9 760.4 L915.8 758.6 L916.7 756.9 L917.6 755.1 L918.5 753.3 L919.4 751.5 L920.2 749.7 L921.1 747.9 L921.9 746.1 L922.7 744.3 L923.6 742.5 L924.4 740.7 L925.2 738.8 L926.0 737.0 L926.8 735.2 L927.6 733.4 L928.4 731.5 L929.1 729.7 L929.9 727.8 L930.7 726.0 L931.4 724.2 L932.2 722.3 L932.9 720.4 L933.6 718.6 L934.4 716.7 L935.1 714.9 L935.8 713.0 L936.5 711.1 L937.2 709.3 L937.9 707.4 L938.6 705.5 L939.3 703.6 L940.0 701.8 L940.7 699.9 L941.3 698.0 L942.0 696.1 L942.6 694.2 L943.3 692.3 L943.9 690.4 L944.6 688.5 L945.2 686.6 L945.9 684.7 L946.5 682.8 L947.1 680.9 L947.7 679.0 L948.3 677.1 L949.0 675.2 L949.6 673.2 L950.2 671.3 L950.8 669.4 L951.4 667.5 L951.9 665.6 L952.5 663.6 L953.1 661.7 L953.7 659.8 L954.3 657.9 L954.8 655.9 L955.4 654.0 L956.0 652.1 L956.5 650.1 L957.1 648.2 L957.7 646.3 L958.2 644.3 L958.8 642.4 L959.3 640.5 L959.8 638.5 L960.4 636.6 L960.9 634.6 L961.5 632.7 L962.0 630.8 L962.5 628.8 L963.1 626.9 L963.6 624.9 L964.1 623.0 L964.6 621.0 L965.2 619.1 L965.7 617.2 L966.2 615.2 L966.7 613.3 L967.2 611.3 L967.7 609.4 L968.3 607.4 L968.8 605.5 L969.3 603.5 L969.8 601.6 L970.3 599.6 L970.8 597.7 L971.3 595.8 L971.8 593.8 L972.3 591.9 L972.8 589.9 L973.4 588.0 L973.9 586.0 L974.4 584.1 L974.9 582.1 L975.4 580.2 L975.9 578.3 L976.4 576.3 L976.9 574.4 L977.4 572.4 L977.9 570.5 L978.4 568.5 L978.9 566.6 L979.4 564.7 L979.9 562.7 L980.4 560.8 L980.9 558.8 L981.4 556.9 L981.9 555.0 L982.4 553.0 L982.9 551.1 L983.4 549.1 L983.9 547.2 L984.4 545.3 L984.9 543.3 L985.4 541.4 L985.9 539.5 L986.4 537.5 L986.9 535.6 L987.4 533.7 L987.9 531.7 L988.4 529.8 L988.9 527.8 L989.4 525.9 L989.9 524.0 L990.4 522.0 L990.9 520.1 L991.4 518.2 L991.9 516.2 L992.4 514.3 L993.0 512.4 L993.5 510.4 L994.0 508.5 L994.5 506.6 L995.0 504.7 L995.5 502.7 L996.0 500.8 L996.5 498.9 L997.0 496.9 L997.5 495.0 L998.1 493.1 L998.6 491.2 L999.1 489.2 L999.6 487.3 L1000.1 485.4 L1000.7 483.4 L1001.2 481.5 L1001.7 479.6 L1002.2 477.7 L1002.8 475.7 L1003.3 473.8 L1003.8 471.9 L1004.3 470.0 L1004.9 468.0 L1005.4 466.1 L1005.9 464.2 L1006.5 462.3 L1007.0 460.4 L1007.5 458.4 L1008.1 456.5 L1008.6 454.6 L1009.2 452.7 L1009.7 450.8 L1010.3 448.8 L1010.8 446.9 L1011.4 445.0 L1011.9 443.1 L1012.5 441.2 L1013.0 439.3 L1013.6 437.3 L1014.1 435.4 L1014.7 433.5 L1015.3 431.6 L1015.8 429.7 L1016.4 427.8 L1017.0 425.9 L1017.5 424.0 L1018.1 422.0 L1018.7 420.1 L1019.2 418.2 L1019.8 416.3 L1020.4 414.4 L1021.0 412.5 L1021.6 410.6 L1022.2 408.7 L1022.8 406.8 L1023.4 404.9 L1024.0 403.0 L1024.6 401.1 L1025.2 399.2 L1025.8 397.2 L1026.4 395.3 L1027.0 393.4 L1027.6 391.5 L1028.2 389.6 L1028.8 387.7 L1029.4 385.8 L1030.1 383.9 L1030.7 382.0 L1031.3 380.1 L1031.9 378.2 L1032.6 376.3 L1033.2 374.4 L1033.9 372.6 L1034.5 370.7 L1035.1 368.8 L1035.8 366.9 L1036.4 365.0 L1037.1 363.1 L1037.8 361.2 L1038.4 359.3 L1039.1 357.4 L1039.8 355.5 L1040.4 353.6 L1041.1 351.7 L1041.8 349.8 L1042.5 348.0 L1043.1 346.1 L1043.8 344.2 L1044.5 342.3 L1045.2 340.4 L1045.9 338.5 L1046.6 336.6 L1047.3 334.8 L1048.0 332.9 L1048.8 331.0 L1049.5 329.1 L1050.2 327.2 L1050.9 325.3 L1051.6 323.5 L1052.4 321.6 L1053.1 319.7 L1053.9 317.8 L1054.6 316.0 L1055.3 314.1 L1056.1 312.2 L1056.9 310.3 L1057.6 308.5 L1058.4 306.6 L1059.1 304.7 L1059.9 302.8 L1060.7 301.0 L1061.5 299.1 L1062.3 297.2 L1063.1 295.4 L1063.9 293.5 L1064.7 291.7 L1065.5 289.8 L1066.4 288.0 L1067.2 286.2 L1068.1 284.4 L1069.0 282.6 L1070.0 280.8 L1071.0 279.1 L1072.0 277.4 L1073.0 275.7 L1074.1 274.1 L1075.3 272.4 L1076.4 270.9 L1077.6 269.3 L1078.9 267.8 L1080.2 266.3 L1081.6 264.9 L1083.0 263.5 L1084.5 262.2 L1086.1 260.9 L1087.7 259.6 L1089.4 258.4 L1091.1 257.3 L1092.9 256.2 L1094.8 255.3 L1096.7 254.4 L1098.6 253.6 L1100.5 253.0 L1102.4 252.5 L1104.3 252.1 L1106.2 252.0 L1108.0 252.0 L1109.8 252.2 L1111.5 252.6 L1113.2 253.3 L1114.8 254.0 L1116.4 255.0 L1117.9 256.0 L1119.4 257.2 L1120.8 258.5 L1122.2 260.0 L1123.6 261.5 L1124.9 263.0 L1126.2 264.7 L1127.5 266.4 L1128.7 268.1 L1129.9 269.8 L1131.1 271.6 L1132.2 273.3 L1133.4 275.1 L1134.5 276.8 L1135.5 278.5 L1136.6 280.3 L1137.7 282.0 L1138.7 283.7 L1139.7 285.5 L1140.7 287.2 L1141.6 289.0 L1142.6 290.7 L1143.5 292.5 L1144.4 294.3 L1145.3 296.0 L1146.2 297.8 L1147.1 299.6 L1148.0 301.4 L1148.8 303.2 L1149.7 305.0 L1150.5 306.8 L1151.3 308.6 L1152.1 310.5 L1152.9 312.3 L1153.7 314.1 L1154.4 316.0 L1155.2 317.8 L1155.9 319.7 L1156.6 321.5 L1157.4 323.4 L1158.1 325.3 L1158.8 327.1 L1159.4 329.0 L1160.1 330.9 L1160.8 332.8 L1161.5 334.7 L1162.1 336.5 L1162.8 338.4 L1163.4 340.3 L1164.0 342.2 L1164.7 344.1 L1165.3 346.0 L1165.9 347.9 L1166.5 349.8 L1167.1 351.7 L1167.7 353.7 L1168.3 355.6 L1168.9 357.5 L1169.5 359.4 L1170.1 361.3 L1170.6 363.2 L1171.2 365.1 L1171.8 367.1 L1172.4 369.0 L1172.9 370.9 L1173.5 372.8 L1174.0 374.8 L1174.6 376.7 L1175.1 378.6 L1175.7 380.5 L1176.2 382.5 L1176.8 384.4 L1177.3 386.3 L1177.8 388.2 L1178.4 390.2 L1178.9 392.1 L1179.4 394.0 L1179.9 396.0 L1180.5 397.9 L1181.0 399.8 L1181.5 401.8 L1182.0 403.7 L1182.5 405.6 L1183.0 407.6 L1183.5 409.5 L1184.0 411.5 L1184.5 413.4 L1185.0 415.3 L1185.5 417.3 L1185.9 419.2 L1186.4 421.2 L1186.9 423.1 L1187.4 425.1 L1187.9 427.0 L1188.3 429.0 L1188.8 430.9 L1189.3 432.9 L1189.7 434.8 L1190.2 436.7 L1190.7 438.7 L1191.1 440.6 L1191.6 442.6 L1192.0 444.6 L1192.5 446.5 L1192.9 448.5 L1193.4 450.4 L1193.8 452.4 L1194.3 454.3 L1194.7 456.3 L1195.1 458.2 L1195.6 460.2 L1196.0 462.1 L1196.4 464.1 L1196.9 466.1 L1197.3 468.0 L1197.7 470.0 L1198.2 471.9 L1198.6 473.9 L1199.0 475.8 L1199.4 477.8 L1199.8 479.8 L1200.3 481.7 L1200.7 483.7 L1201.1 485.6 L1201.5 487.6 L1201.9 489.6 L1202.3 491.5 L1202.7 493.5 L1203.1 495.5 L1203.5 497.4 L1203.9 499.4 L1204.3 501.3 L1204.7 503.3 L1205.1 505.3 L1205.5 507.2 L1205.9 509.2 L1206.3 511.2 L1206.7 513.1 L1207.1 515.1 L1207.5 517.1 L1207.9 519.0 L1208.3 521.0 L1208.7 523.0 L1209.1 524.9 L1209.5 526.9 L1209.9 528.9 L1210.3 530.8 L1210.7 532.8 L1211.0 534.8 L1211.4 536.7 L1211.8 538.7 L1212.2 540.6 L1212.6 542.6 L1213.0 544.6 L1213.3 546.5 L1213.7 548.5 L1214.1 550.5 L1214.5 552.4 L1214.9 554.4 L1215.3 556.4 L1215.6 558.3 L1216.0 560.3 L1216.4 562.3 L1216.8 564.2 L1217.2 566.2 L1217.5 568.2 L1217.9 570.1 L1218.3 572.1 L1218.7 574.1 L1219.1 576.0 L1219.4 578.0 L1219.8 580.0 L1220.2 581.9 L1220.6 583.9 L1221.0 585.9 L1221.3 587.8 L1221.7 589.8 L1222.1 591.7 L1222.5 593.7 L1222.9 595.7 L1223.2 597.6 L1223.6 599.6 L1224.0 601.6 L1224.4 603.5 L1224.7 605.5 L1225.1 607.5 L1225.5 609.4 L1225.9 611.4 L1226.2 613.3 L1226.6 615.3 L1227.0 617.3 L1227.4 619.2 L1227.7 621.2 L1228.1 623.2 L1228.5 625.1 L1228.9 627.1 L1229.2 629.1 L1229.6 631.0 L1230.0 633.0 L1230.4 634.9 L1230.7 636.9 L1231.1 638.9 L1231.5 640.8 L1231.9 642.8 L1232.2 644.8 L1232.6 646.7 L1233.0 648.7 L1233.3 650.7 L1233.7 652.6 L1234.1 654.6 L1234.4 656.6 L1234.8 658.5 L1235.2 660.5 L1235.6 662.4 L1235.9 664.4 L1236.3 666.4 L1236.7 668.3 L1237.0 670.3 L1237.4 672.3 L1237.8 674.2 L1238.1 676.2 L1238.5 678.2 L1238.9 680.1 L1239.2 682.1 L1239.6 684.1 L1240.0 686.0 L1240.3 688.0 L1240.7 690.0 L1241.1 691.9 L1241.4 693.9 L1241.8 695.9 L1242.1 697.8 L1242.5 699.8 L1242.9 701.8 L1243.2 703.7 L1243.6 705.7 L1244.0 707.6 L1244.3 709.6 L1244.7 711.6 L1245.0 713.6 L1245.4 715.5 L1245.8 717.5 L1246.1 719.5 L1246.5 721.4 L1246.8 723.4 L1247.2 725.4 L1247.6 727.3 L1247.9 729.3 L1248.3 731.3 L1248.6 733.2 L1249.0 735.2 L1249.3 737.2 L1249.7 739.1 L1250.1 741.1 L1250.4 743.1 L1250.8 745.0 L1251.1 747.0 L1251.5 749.0 L1251.8 751.0 L1252.2 752.9 L1252.5 754.9 L1252.9 756.9 L1253.2 758.8 L1253.6 760.8 L1253.9 762.8 L1254.3 764.8 L1254.6 766.7 L1255.0 768.7 L1255.4 770.7 L1255.7 772.6 L1256.0 774.6 L1256.4 776.6 L1256.7 778.6 L1257.1 780.5 L1257.4 782.5 L1257.8 784.5 L1258.1 786.5 L1258.5 788.4 L1258.8 790.4 L1259.2 792.4 L1259.5 794.4 L1259.9 796.3 L1260.2 798.3 L1260.6 800.3 L1260.9 802.3 L1261.2 804.2 L1261.6 806.2 L1261.9 808.2 L1262.3 810.2 L1262.6 812.1 L1263.0 814.1 L1263.3 816.1 L1263.6 818.1 L1264.0 820.1 L1264.3 822.0 L1264.7 824.0 L1265.0 826.0 L1265.3 828.0 L1265.7 830.0 L1266.0 831.9 L1266.4 833.9 L1266.7 835.9 L1267.0 837.9 L1267.4 839.8 L1267.7 841.8 L1268.1 843.8 L1268.4 845.8 L1268.8 847.8 L1269.1 849.7 L1269.5 851.7 L1269.8 853.7 L1270.1 855.7 L1270.5 857.7 L1270.8 859.6 L1271.2 861.6 L1271.5 863.6 L1271.9 865.6 L1272.2 867.6 L1272.6 869.5 L1272.9 871.5 L1273.3 873.5 L1273.6 875.5 L1274.0 877.4 L1274.4 879.4 L1274.7 881.4 L1275.1 883.4 L1275.4 885.3 L1275.8 887.3 L1276.1 889.3 L1276.5 891.3 L1276.9 893.2 L1277.2 895.2 L1277.6 897.2 L1278.0 899.2 L1278.3 901.1 L1278.7 903.1 L1279.1 905.1 L1279.5 907.1 L1279.8 909.0 L1280.2 911.0 L1280.6 913.0 L1281.0 914.9 L1281.4 916.9 L1281.7 918.9 L1282.1 920.9 L1282.5 922.8 L1282.9 924.8 L1283.3 926.8 L1283.7 928.7 L1284.1 930.7 L1284.5 932.7 L1284.9 934.6 L1285.3 936.6 L1285.7 938.5 L1286.1 940.5 L1286.5 942.5 L1286.9 944.4 L1287.3 946.4 L1287.7 948.4 L1288.1 950.3 L1288.6 952.3 L1289.0 954.2 L1289.4 956.2 L1289.8 958.1 L1290.3 960.1 L1290.7 962.1 L1291.1 964.0 L1291.6 966.0 L1292.0 967.9 L1292.4 969.9 L1292.9 971.8 L1293.3 973.8 L1293.8 975.7 L1294.2 977.7 L1294.7 979.6 L1295.2 981.6 L1295.6 983.5 L1296.1 985.4 L1296.6 987.4 L1297.0 989.3 L1297.5 991.3 L1298.0 993.2 L1298.5 995.2 L1298.9 997.1 L1299.4 999.0 L1299.9 1001.0 L1300.4 1002.9 L1300.9 1004.8 L1301.4 1006.8 L1301.9 1008.7 L1302.4 1010.6 L1302.9 1012.6 L1303.4 1014.5 L1304.0 1016.4 L1304.5 1018.3 L1305.0 1020.3 L1305.5 1022.2 L1306.1 1024.1 L1306.6 1026.0 L1307.1 1027.9 L1307.7 1029.9 L1308.2 1031.8 L1308.8 1033.7 L1309.3 1035.6 L1309.9 1037.5 L1310.5 1039.4 L1311.0 1041.3 L1311.6 1043.3 L1312.2 1045.2 L1312.8 1047.1 L1313.4 1049.0 L1313.9 1050.9 L1314.5 1052.8 L1315.1 1054.7 L1315.7 1056.6 L1316.3 1058.5 L1316.9 1060.4 L1317.6 1062.3 L1318.2 1064.2 L1318.8 1066.0 L1319.4 1067.9 L1320.1 1069.8 L1320.7 1071.7 L1321.4 1073.6 L1322.0 1075.5 L1322.7 1077.4 L1323.3 1079.2 L1324.0 1081.1 L1324.6 1083.0 L1325.3 1084.9 L1326.0 1086.8 L1326.7 1088.6 L1327.4 1090.5 L1328.0 1092.4 L1328.7 1094.2 L1329.4 1096.1 L1330.1 1098.0 L1330.9 1099.8 L1331.6 1101.7 L1332.3 1103.5 L1333.0 1105.4 L1333.8 1107.2 L1334.5 1109.1 L1335.3 1110.9 L1336.1 1112.8 L1336.9 1114.6 L1337.8 1116.4 L1338.6 1118.3 L1339.5 1120.1 L1340.4 1121.9 L1341.3 1123.7 L1342.3 1125.5 L1343.3 1127.3 L1344.3 1129.1 L1345.4 1130.8 L1346.5 1132.6 L1347.6 1134.4 L1348.8 1136.1 L1350.0 1137.8 L1351.3 1139.5 L1352.6 1141.2 L1353.9 1142.9 L1355.3 1144.5 L1356.7 1146.0 L1358.2 1147.5 L1359.8 1148.9 L1361.3 1150.2 L1363.0 1151.5 L1364.6 1152.6 L1366.4 1153.6 L1368.1 1154.5 L1369.9 1155.3 L1371.8 1156.0 L1373.7 1156.5 L1375.7 1156.9 L1377.6 1157.2 L1379.6 1157.3 L1381.5 1157.4 L1383.5 1157.4 L1385.4 1157.3 L1387.3 1157.0 L1389.1 1156.7 L1391.0 1156.4 L1392.8 1155.9 L1394.6 1155.3 L1396.3 1154.7 L1398.1 1154.0 L1399.8 1153.3 L1401.5 1152.4 L1403.2 1151.5 L1404.9 1150.6 L1406.5 1149.6 L1408.1 1148.5 L1409.7 1147.4 L1411.3 1146.2 L1412.9 1144.9 L1414.4 1143.7 L1415.9 1142.4 L1417.5 1141.0 L1418.9 1139.6 L1420.4 1138.2 L1421.9 1136.7 L1423.3 1135.2 L1424.8 1133.7 L1426.2 1132.1 L1427.6 1130.6 L1428.9 1129.0 L1430.3 1127.4 L1431.7 1125.8 L1433.0 1124.1 L1434.3 1122.5 L1435.7 1120.8 L1437.0 1119.2 L1438.3 1117.5 L1439.5 1115.9 L1440.8 1114.2 L1442.1 1112.6 L1443.3 1110.9 L1444.6 1109.3 L1445.8 1107.6 L1447.0 1106.0 L1448.2 1104.3 L1449.4 1102.6 L1450.6 1101.0 L1451.8 1099.3 L1452.9 1097.6 L1454.1 1095.9 L1455.3 1094.3 L1456.4 1092.6 L1457.5 1090.9 L1458.6 1089.2 L1459.8 1087.5 L1460.9 1085.9 L1462.0 1084.2 L1463.1 1082.5 L1464.1 1080.8 L1465.2 1079.1 L1466.3 1077.4 L1467.3 1075.7 L1468.4 1074.0 L1469.4 1072.3 L1470.5 1070.6 L1471.5 1068.9 L1472.5 1067.2 L1473.5 1065.5 L1474.6 1063.8 L1475.6 1062.1 L1476.6 1060.3 L1477.6 1058.6 L1478.5 1056.9 L1479.5 1055.2 L1480.5 1053.5 L1481.5 1051.7 L1482.4 1050.0 L1483.4 1048.3 L1484.4 1046.5 L1485.3 1044.8 L1486.3 1043.1 L1487.2 1041.3 L1488.2 1039.6 L1489.1 1037.9 L1490.0 1036.1 L1491.0 1034.4 L1491.9 1032.6 L1492.8 1030.9 L1493.8 1029.1 L1494.7 1027.4 L1495.6 1025.6 L1496.5 1023.8 L1497.4 1022.1 L1498.3 1020.3 L1499.2 1018.6 L1500.1 1016.8 L1501.0 1015.0 L1501.9 1013.3 L1502.8 1011.5 L1503.7 1009.7 L1504.6 1007.9 L1505.5 1006.2 L1506.4 1004.4 L1507.2 1002.6 L1508.1 1000.8 L1509.0 999.0 L1509.9 997.3 L1510.7 995.5 L1511.6 993.7 L1512.5 991.9 L1513.3 990.1 L1514.2 988.3 L1515.0 986.5 L1515.9 984.7 L1516.8 982.9 L1517.6 981.1 L1518.5 979.3 L1519.3 977.5 L1520.2 975.7 L1521.0 973.9 L1521.8 972.1 L1522.7 970.3 L1523.5 968.5 L1524.4 966.7 L1525.2 964.9 L1526.0 963.1 L1526.9 961.3 L1527.7 959.5 L1528.5 957.7 L1529.3 955.9 L1530.2 954.0 L1531.0 952.2 L1531.8 950.4 L1532.6 948.6 L1533.5 946.8 L1534.3 945.0 L1535.1 943.1 L1535.9 941.3 L1536.7 939.5 L1537.5 937.7 L1538.4 935.9 L1539.2 934.0 L1540.0 932.2 L1540.8 930.4 L1541.6 928.6 L1542.4 926.7 L1543.2 924.9 L1544.0 923.1 L1544.9 921.3 L1545.7 919.4 L1546.5 917.6 L1547.3 915.8 L1548.1 913.9 L1548.9 912.1 L1549.7 910.3 L1550.5 908.5 L1551.3 906.6 L1552.1 904.8 L1552.9 903.0 L1553.7 901.1 L1554.6 899.3 L1555.4 897.5 L1556.2 895.6 L1557.0 893.8 L1557.8 892.0 L1558.6 890.1 L1559.4 888.3 L1560.2 886.5 L1561.0 884.6 L1561.8 882.8 L1562.6 881.0 L1563.4 879.1 L1564.3 877.3 L1565.1 875.5 L1565.9 873.6 L1566.7 871.8 L1567.5 870.0 L1568.3 868.1 L1569.1 866.3 L1570.0 864.5 L1570.8 862.7 L1571.6 860.8 L1572.4 859.0 L1573.2 857.2 L1574.1 855.3 L1574.9 853.5 L1575.7 851.7 L1576.5 849.8 L1577.4 848.0 L1578.2 846.2 L1579.0 844.4 L1579.9 842.5 L1580.7 840.7 L1581.5 838.9 L1582.4 837.0 L1583.2 835.2 L1584.0 833.4 L1584.9 831.6 L1585.7 829.7 L1586.6 827.9 L1587.4 826.1 L1588.3 824.3 L1589.1 822.5 L1590.0 820.6 L1590.8 818.8 L1591.7 817.0 L1592.5 815.2 L1593.4 813.4 L1594.3 811.6 L1595.1 809.7 L1596.0 807.9 L1596.9 806.1 L1597.8 804.3 L1598.6 802.5 L1599.5 800.7 L1600.4 798.9 L1601.3 797.1 L1602.2 795.3 L1603.0 793.4 L1603.9 791.6 L1604.8 789.8 L1605.7 788.0 L1606.6 786.2 L1607.5 784.4 L1608.4 782.6 L1609.4 780.8 L1610.3 779.0 L1611.2 777.2 L1612.1 775.5 L1613.0 773.7 L1614.0 771.9 L1614.9 770.1 L1615.8 768.3 L1616.8 766.5 L1617.7 764.7 L1618.6 762.9 L1619.6 761.2 L1620.5 759.4 L1621.5 757.6 L1622.5 755.8 L1623.4 754.1 L1624.4 752.3 L1625.4 750.5 L1626.3 748.7 L1627.3 747.0 L1628.3 745.2 L1629.3 743.4 L1630.3 741.7 L1631.3 739.9 L1632.3 738.2 L1633.3 736.4 L1634.3 734.6 L1635.3 732.9 L1636.3 731.2 L1637.3 729.4 L1638.4 727.7 L1639.4 726.0 L1640.5 724.3 L1641.6 722.6 L1642.6 720.9 L1643.7 719.2 L1644.8 717.5 L1646.0 715.9 L1647.1 714.2 L1648.2 712.6 L1649.4 711.0 L1650.6 709.4 L1651.8 707.8 L1653.0 706.3 L1654.2 704.8 L1655.5 703.3 L1656.8 701.8 L1658.1 700.3 L1659.4 698.9 L1660.8 697.5 L1662.1 696.1 L1663.5 694.7 L1664.9 693.4 L1666.4 692.1 L1667.9 690.8 L1669.4 689.5 L1670.9 688.3 L1672.5 687.2 L1674.0 686.0 L1675.7 684.9 L1677.3 683.8 L1679.0 682.8 L1680.7 681.8 L1682.5 680.8 L1684.2 679.9 L1686.1 679.0 L1687.9 678.1 L1689.8 677.3 L1691.7 676.6 L1693.6 675.9 L1695.6 675.2 L1697.6 674.6 L1699.6 674.0 L1701.6 673.5 L1703.6 673.0 L1705.7 672.6 L1707.7 672.3 L1709.7 672.0 L1711.8 671.8 L1713.8 671.7 L1715.9 671.6 L1717.9 671.5 L1719.9 671.6 L1721.9 671.7 L1723.9 671.9 L1725.9 672.2 L1727.8 672.5 L1729.8 672.9 L1731.7 673.4 L1733.6 673.9 L1735.4 674.5 L1737.3 675.2 L1739.1 675.9 L1740.9 676.7 L1742.7 677.6 L1744.5 678.5 L1746.2 679.5 L1747.9 680.5 L1749.6 681.6 L1751.2 682.7 L1752.9 683.9 L1754.5 685.1 L1756.1 686.3 L1757.6 687.6 L1759.1 688.9 L1760.6 690.3 L1762.1 691.7 L1763.6 693.1 L1765.0 694.6 L1766.4 696.1 L1767.7 697.6 L1769.0 699.1 L1770.3 700.7 L1771.6 702.2 L1772.9 703.8 L1774.1 705.4 L1775.3 707.1 L1776.5 708.7 L1777.6 710.3 L1778.8 712.0 L1779.9 713.6 L1781.1 715.3 L1782.2 716.9 L1783.4 718.5 L1784.5 720.2 L1785.7 721.8 L1786.8 723.4 L1788.0 725.0"/>
<path stroke="#c466e0" d="M233.0 821.4 L235.0 821.7 L237.0 822.0 L239.0 822.2 L240.9 822.5 L242.9 822.8 L244.9 823.0 L246.9 823.3 L248.9 823.5 L250.8 823.8 L252.8 824.0 L254.8 824.3 L256.8 824.5 L258.8 824.8 L260.8 825.0 L262.8 825.3 L264.8 825.5 L266.7 825.8 L268.7 826.0 L270.7 826.3 L272.7 826.5 L274.7 826.8 L276.7 827.1 L278.7 827.3 L280.7 827.6 L282.6 827.9 L284.6 828.2 L286.6 828.5 L288.6 828.7 L290.6 829.0 L292.6 829.3 L294.5 829.7 L296.5 830.0 L298.5 830.3 L300.5 830.6 L302.4 831.0 L304.4 831.3 L306.4 831.7 L308.3 832.0 L310.3 832.4 L312.3 832.8 L314.2 833.2 L316.2 833.6 L318.1 834.0 L320.1 834.4 L322.1 834.9 L324.0 835.3 L325.9 835.8 L327.9 836.3 L329.8 836.8 L331.8 837.3 L333.7 837.8 L335.6 838.3 L337.5 838.8 L339.5 839.4 L341.4 840.0 L343.3 840.5 L345.2 841.1 L347.1 841.7 L349.0 842.3 L350.9 842.9 L352.9 843.6 L354.8 844.2 L356.7 844.8 L358.6 845.5 L360.5 846.1 L362.3 846.8 L364.2 847.5 L366.1 848.1 L368.0 848.8 L369.9 849.5 L371.8 850.2 L373.7 850.9 L375.6 851.6 L377.5 852.3 L379.3 853.0 L381.2 853.7 L383.1 854.4 L385.0 855.1 L386.9 855.8 L388.8 856.5 L390.6 857.2 L392.5 857.9 L394.4 858.6 L396.3 859.4 L398.2 860.1 L400.0 860.8 L401.9 861.5 L403.8 862.2 L405.7 862.9 L407.6 863.6 L409.5 864.3 L411.4 864.9 L413.2 865.6 L415.1 866.3 L417.0 867.0 L418.9 867.6 L420.8 868.3 L422.7 868.9 L424.6 869.6 L426.5 870.2 L428.4 870.9 L430.3 871.5 L432.2 872.1 L434.1 872.7 L436.0 873.3 L437.9 873.9 L439.8 874.4 L441.7 875.0 L443.6 875.5 L445.5 876.1 L447.5 876.6 L449.4 877.1 L451.3 877.6 L453.2 878.1 L455.2 878.6 L457.1 879.0 L459.0 879.5 L461.0 879.9 L462.9 880.3 L464.9 880.7 L466.8 881.1 L468.8 881.5 L470.7 881.8 L472.7 882.2 L474.7 882.5 L476.6 882.8 L478.6 883.2 L480.6 883.5 L482.5 883.7 L484.5 884.0 L486.5 884.3 L488.5 884.6 L490.4 884.8 L492.4 885.1 L494.4 885.3 L496.4 885.6 L498.4 885.8 L500.4 886.0 L502.4 886.2 L504.3 886.4 L506.3 886.6 L508.3 886.8 L510.3 887.0 L512.3 887.2 L514.3 887.4 L516.3 887.6 L518.3 887.8 L520.3 888.0 L522.3 888.1 L524.3 888.3 L525.0 887.3 L536.3 879.2 L547.8 891.8 L548.3 890.5 L550.3 890.8 L552.3 891.0 L554.3 891.2 L556.2 891.4 L558.2 891.6 L560.2 891.8 L562.2 892.1 L564.2 892.3 L566.2 892.6 L568.2 892.8 L570.2 893.1 L572.1 893.4 L574.1 893.7 L576.1 894.0 L578.1 894.3 L580.0 894.6 L582.0 894.9 L584.0 895.3 L585.9 895.6 L587.9 896.0 L589.9 896.4 L591.8 896.8 L593.8 897.2 L595.7 897.6 L597.7 898.0 L599.6 898.5 L601.6 898.9 L603.5 899.4 L605.4 899.8 L607.4 900.3 L609.3 900.8 L611.2 901.4 L613.1 901.9 L615.0 902.4 L616.9 903.0 L618.9 903.6 L620.8 904.2 L622.7 904.8 L624.5 905.4 L626.4 906.0 L628.3 906.7 L630.2 907.4 L632.1 908.0 L633.9 908.7 L635.8 909.5 L637.7 910.2 L639.5 910.9 L641.4 911.7 L643.2 912.5 L645.0 913.3 L646.9 914.1 L648.7 914.9 L650.5 915.8 L652.3 916.6 L654.1 917.5 L655.9 918.4 L657.8 919.3 L659.6 920.1 L661.4 921.0 L663.2 921.9 L665.0 922.8 L666.8 923.6 L668.6 924.5 L670.4 925.3 L672.3 926.2 L674.1 927.0 L675.9 927.7 L677.8 928.5 L679.6 929.2 L681.5 930.0 L683.4 930.6 L685.2 931.3 L687.1 931.9 L689.1 932.5 L691.0 933.0 L692.9 933.5 L694.9 934.0 L696.8 934.4 L698.8 934.7 L700.8 935.1 L702.7 935.4 L704.7 935.6 L706.7 935.8 L708.7 936.0 L710.8 936.1 L712.8 936.1 L714.8 936.2 L716.8 936.2 L718.8 936.1 L720.8 936.0 L722.8 935.9 L724.8 935.7 L726.8 935.5 L728.8 935.2 L730.8 934.9 L732.7 934.5 L734.7 934.1 L736.6 933.7 L738.6 933.2 L740.5 932.6 L742.4 932.1 L744.3 931.5 L746.2 930.8 L748.1 930.1 L750.0 929.4 L751.8 928.7 L753.7 927.9 L755.5 927.0 L757.3 926.2 L759.1 925.3 L760.9 924.4 L762.6 923.4 L764.3 922.4 L766.1 921.4 L767.8 920.3 L769.4 919.3 L771.1 918.2 L772.7 917.0 L774.3 915.9 L775.9 914.7 L777.5 913.5 L779.1 912.2 L780.6 911.0 L782.2 909.7 L783.7 908.4 L785.2 907.1 L786.7 905.8 L788.2 904.5 L789.7 903.2 L791.2 901.8 L792.7 900.5 L794.2 899.1 L795.6 897.8 L797.1 896.4 L798.6 895.0 L800.1 893.7 L801.5 892.3 L803.0 890.9 L804.5 889.6 L806.0 888.2 L807.5 886.9 L809.0 885.5 L810.5 884.2 L812.0 882.9 L813.6 881.6 L815.1 880.3 L816.7 879.0 L818.2 877.8 L819.8 876.5 L821.4 875.3 L823.0 874.1 L824.7 872.9 L826.3 871.7 L827.9 870.5 L829.6 869.3 L831.2 868.1 L832.8 866.9 L834.5 865.8 L836.1 864.6 L837.8 863.4 L839.4 862.2 L841.0 861.1 L842.7 859.9 L844.3 858.7 L845.9 857.5 L847.5 856.3 L849.1 855.1 L850.7 853.8 L852.3 852.6 L853.8 851.3 L855.4 850.0 L856.9 848.7 L858.4 847.4 L859.9 846.1 L861.4 844.7 L862.8 843.4 L864.3 842.0 L865.7 840.6 L867.1 839.2 L868.5 837.8 L869.9 836.3 L871.2 834.9 L872.6 833.4 L873.9 831.9 L875.2 830.4 L876.6 828.9 L877.9 827.4 L879.1 825.9 L880.4 824.3 L881.7 822.8 L882.9 821.2 L884.1 819.6 L885.3 818.0 L886.6 816.5 L887.7 814.8 L888.9 813.2 L890.1 811.6 L891.3 810.0 L892.4 808.3 L893.5 806.7 L894.7 805.0 L895.8 803.3 L896.9 801.7 L898.0 800.0 L899.1 798.3 L900.1 796.6 L901.2 794.9 L902.2 793.2 L903.3 791.5 L904.3 789.8 L905.3 788.1 L906.4 786.3 L907.4 784.6 L908.4 782.9 L909.4 781.1 L910.3 779.4 L911.3 777.7 L912.3 775.9 L913.2 774.2 L914.2 772.4 L915.1 770.6 L916.1 768.9 L917.0 767.1 L917.9 765.3 L918.8 763.6 L919.7 761.8 L920.6 760.0 L921.5 758.2 L922.4 756.4 L923.2 754.6 L924.1 752.8 L924.9 751.0 L925.8 749.2 L926.6 747.4 L927.5 745.6 L928.3 743.8 L929.1 741.9 L929.9 740.1 L930.7 738.3 L931.5 736.5 L932.3 734.6 L933.1 732.8 L933.9 731.0 L934.7 729.1 L935.4 727.3 L936.2 725.4 L936.9 723.6 L937.7 721.7 L938.4 719.9 L939.2 718.0 L939.9 716.2 L940.6 714.3 L941.3 712.4 L942.1 710.6 L942.8 708.7 L943.5 706.8 L944.2 704.9 L944.8 703.1 L945.5 701.2 L946.2 699.3 L946.9 697.4 L947.6 695.5 L948.2 693.6 L948.9 691.7 L949.5 689.8 L950.2 687.9 L950.8 686.0 L951.5 684.1 L952.1 682.2 L952.7 680.3 L953.4 678.4 L954.0 676.5 L954.6 674.6 L955.2 672.7 L955.8 670.8 L956.4 668.9 L957.0 667.0 L957.6 665.0 L958.2 663.1 L958.8 661.2 L959.4 659.3 L960.0 657.4 L960.6 655.4 L961.2 653.5 L961.7 651.6 L962.3 649.7 L962.9 647.7 L963.4 645.8 L964.0 643.9 L964.6 641.9 L965.1 640.0 L965.7 638.1 L966.2 636.1 L966.8 634.2 L967.3 632.3 L967.8 630.3 L968.4 628.4 L968.9 626.5 L969.5 624.5 L970.0 622.6 L970.5 620.6 L971.1 618.7 L971.6 616.8 L972.1 614.8 L972.6 612.9 L973.2 610.9 L973.7 609.0 L974.2 607.1 L974.7 605.1 L975.2 603.2 L975.7 601.2 L976.3 599.3 L976.8 597.4 L977.3 595.4 L977.8 593.5 L978.3 591.5 L978.8 589.6 L979.3 587.7 L979.8 585.7 L980.3 583.8 L980.8 581.8 L981.3 579.9 L981.8 577.9 L982.3 576.0 L982.8 574.1 L983.3 572.1 L983.8 570.2 L984.3 568.2 L984.8 566.3 L985.3 564.4 L985.8 562.4 L986.3 560.5 L986.8 558.6 L987.3 556.6 L987.8 554.7 L988.3 552.7 L988.8 550.8 L989.3 548.9 L989.8 546.9 L990.3 545.0 L990.8 543.1 L991.3 541.1 L991.8 539.2 L992.3 537.2 L992.8 535.3 L993.3 533.4 L993.8 531.4 L994.3 529.5 L994.8 527.6 L995.3 525.6 L995.8 523.7 L996.3 521.8 L996.8 519.8 L997.3 517.9 L997.8 516.0 L998.3 514.0 L998.8 512.1 L999.3 510.2 L999.8 508.2 L1000.3 506.3 L1000.8 504.4 L1001.3 502.4 L1001.8 500.5 L1002.3 498.6 L1002.8 496.6 L1003.3 494.7 L1003.8 492.8 L1004.4 490.9 L1004.9 488.9 L1005.4 487.0 L1005.9 485.1 L1006.4 483.1 L1006.9 481.2 L1007.5 479.3 L1008.0 477.4 L1008.5 475.4 L1009.0 473.5 L1009.6 471.6 L1010.1 469.7 L1010.6 467.8 L1011.1 465.8 L1011.7 463.9 L1012.2 462.0 L1012.8 460.1 L1013.3 458.1 L1013.8 456.2 L1014.4 454.3 L1014.9 452.4 L1015.5 450.5 L1016.0 448.5 L1016.6 446.6 L1017.1 444.7 L1017.7 442.8 L1018.2 440.9 L1018.8 439.0 L1019.4 437.1 L1019.9 435.1 L1020.5 433.2 L1021.1 431.3 L1021.6 429.4 L1022.2 427.5 L1022.8 425.6 L1023.4 423.7 L1023.9 421.8 L1024.5 419.8 L1025.1 417.9 L1025.7 416.0 L1026.3 414.1 L1026.9 412.2 L1027.5 410.3 L1028.1 408.4 L1028.7 406.5 L1029.3 404.6 L1029.9 402.7 L1030.5 400.8 L1031.2 398.9 L1031.8 397.0 L1032.4 395.1 L1033.0 393.2 L1033.7 391.3 L1034.3 389.4 L1034.9 387.5 L1035.6 385.6 L1036.2 383.7 L1036.9 381.8 L1037.5 379.9 L1038.2 378.0 L1038.8 376.1 L1039.5 374.2 L1040.2 372.4 L1040.9 370.5 L1041.5 368.6 L1042.2 366.7 L1042.9 364.8 L1043.6 362.9 L1044.3 361.0 L1045.0 359.1 L1045.7 357.3 L1046.4 355.4 L1047.1 353.5 L1047.8 351.6 L1048.5 349.7 L1049.2 347.8 L1049.9 346.0 L1050.7 344.1 L1051.4 342.2 L1052.2 340.3 L1052.9 338.5 L1053.6 336.6 L1054.4 334.7 L1055.2 332.8 L1055.9 331.0 L1056.7 329.1 L1057.5 327.2 L1058.2 325.4 L1059.0 323.5 L1059.8 321.6 L1060.6 319.8 L1061.4 317.9 L1062.2 316.0 L1063.0 314.2 L1063.8 312.3 L1064.6 310.4 L1065.4 308.6 L1066.3 306.7 L1067.1 304.9 L1067.9 303.0 L1068.8 301.1 L1069.6 299.3 L1070.5 297.4 L1071.4 295.6 L1072.2 293.8 L1073.1 291.9 L1074.0 290.1 L1075.0 288.3 L1075.9 286.5 L1076.9 284.8 L1077.9 283.1 L1078.9 281.4 L1080.0 279.7 L1081.1 278.1 L1082.2 276.5 L1083.4 274.9 L1084.6 273.4 L1085.9 272.0 L1087.2 270.6 L1088.5 269.2 L1089.9 267.9 L1091.4 266.7 L1092.9 265.5 L1094.5 264.4 L1096.2 263.4 L1097.9 262.4 L1099.7 261.6 L1101.6 260.8 L1103.5 260.0 L1105.5 259.4 L1107.4 258.9 L1109.5 258.5 L1111.5 258.2 L1113.5 258.1 L1115.5 258.0 L1117.5 258.2 L1119.5 258.4 L1121.4 258.9 L1123.2 259.4 L1125.0 260.2 L1126.8 261.0 L1128.5 262.0 L1130.1 263.1 L1131.7 264.3 L1133.2 265.6 L1134.7 267.0 L1136.1 268.5 L1137.4 270.0 L1138.7 271.6 L1139.9 273.3 L1141.1 274.9 L1142.2 276.6 L1143.3 278.4 L1144.3 280.1 L1145.3 281.9 L1146.2 283.7 L1147.2 285.5 L1148.1 287.4 L1148.9 289.2 L1149.8 291.0 L1150.7 292.9 L1151.5 294.7 L1152.4 296.5 L1153.2 298.4 L1154.0 300.2 L1154.8 302.1 L1155.7 303.9 L1156.5 305.8 L1157.2 307.6 L1158.0 309.5 L1158.8 311.3 L1159.6 313.2 L1160.3 315.0 L1161.1 316.9 L1161.8 318.7 L1162.6 320.6 L1163.3 322.5 L1164.0 324.3 L1164.8 326.2 L1165.5 328.1 L1166.2 329.9 L1166.9 331.8 L1167.6 333.7 L1168.3 335.5 L1168.9 337.4 L1169.6 339.3 L1170.3 341.2 L1171.0 343.1 L1171.6 344.9 L1172.3 346.8 L1172.9 348.7 L1173.6 350.6 L1174.2 352.5 L1174.8 354.4 L1175.5 356.3 L1176.1 358.2 L1176.7 360.1 L1177.3 362.0 L1177.9 363.8 L1178.5 365.7 L1179.1 367.6 L1179.7 369.6 L1180.3 371.5 L1180.9 373.4 L1181.5 375.3 L1182.1 377.2 L1182.7 379.1 L1183.3 381.0 L1183.8 382.9 L1184.4 384.8 L1185.0 386.7 L1185.5 388.7 L1186.1 390.6 L1186.6 392.5 L1187.2 394.4 L1187.7 396.3 L1188.3 398.3 L1188.8 400.2 L1189.3 402.1 L1189.9 404.0 L1190.4 406.0 L1190.9 407.9 L1191.4 409.8 L1192.0 411.8 L1192.5 413.7 L1193.0 415.6 L1193.5 417.6 L1194.0 419.5 L1194.5 421.4 L1195.0 423.4 L1195.5 425.3 L1196.0 427.2 L1196.5 429.2 L1197.0 431.1 L1197.4 433.1 L1197.9 435.0 L1198.4 437.0 L1198.9 438.9 L1199.4 440.9 L1199.8 442.8 L1200.3 444.8 L1200.8 446.7 L1201.2 448.6 L1201.7 450.6 L1202.1 452.6 L1202.6 454.5 L1203.0 456.5 L1203.5 458.4 L1203.9 460.4 L1204.4 462.3 L1204.8 464.3 L1205.3 466.2 L1205.7 468.2 L1206.2 470.1 L1206.6 472.1 L1207.0 474.1 L1207.5 476.0 L1207.9 478.0 L1208.3 479.9 L1208.7 481.9 L1209.2 483.9 L1209.6 485.8 L1210.0 487.8 L1210.4 489.8 L1210.8 491.7 L1211.3 493.7 L1211.7 495.6 L1212.1 497.6 L1212.5 499.6 L1212.9 501.5 L1213.3 503.5 L1213.7 505.5 L1214.1 507.4 L1214.5 509.4 L1214.9 511.4 L1215.3 513.3 L1215.7 515.3 L1216.1 517.3 L1216.5 519.2 L1216.9 521.2 L1217.3 523.2 L1217.7 525.1 L1218.1 527.1 L1218.5 529.1 L1218.9 531.0 L1219.3 533.0 L1219.7 535.0 L1220.1 536.9 L1220.4 538.9 L1220.8 540.9 L1221.2 542.8 L1221.6 544.8 L1222.0 546.8 L1222.4 548.8 L1222.8 550.7 L1223.1 552.7 L1223.5 554.7 L1223.9 556.6 L1224.3 558.6 L1224.7 560.6 L1225.1 562.5 L1225.4 564.5 L1225.8 566.5 L1226.2 568.4 L1226.6 570.4 L1227.0 572.4 L1227.4 574.3 L1227.7 576.3 L1228.1 578.3 L1228.5 580.2 L1228.9 582.2 L1229.3 584.1 L1229.6 586.1 L1230.0 588.1 L1230.4 590.0 L1230.8 592.0 L1231.1 594.0 L1231.5 595.9 L1231.9 597.9 L1232.3 599.9 L1232.7 601.8 L1233.0 603.8 L1233.4 605.8 L1233.8 607.7 L1234.2 609.7 L1234.5 611.6 L1234.9 613.6 L1235.3 615.6 L1235.7 617.5 L1236.0 619.5 L1236.4 621.5 L1236.8 623.4 L1237.2 625.4 L1237.5 627.3 L1237.9 629.3 L1238.3 631.3 L1238.6 633.2 L1239.0 635.2 L1239.4 637.2 L1239.8 639.1 L1240.1 641.1 L1240.5 643.0 L1240.9 645.0 L1241.2 647.0 L1241.6 648.9 L1242.0 650.9 L1242.4 652.9 L1242.7 654.8 L1243.1 656.8 L1243.5 658.7 L1243.8 660.7 L1244.2 662.7 L1244.6 664.6 L1244.9 666.6 L1245.3 668.6 L1245.7 670.5 L1246.0 672.5 L1246.4 674.5 L1246.8 676.4 L1247.1 678.4 L1247.5 680.3 L1247.9 682.3 L1248.2 684.3 L1248.6 686.2 L1249.0 688.2 L1249.3 690.2 L1249.7 692.1 L1250.0 694.1 L1250.4 696.1 L1250.8 698.0 L1251.1 700.0 L1251.5 701.9 L1251.9 703.9 L1252.2 705.9 L1252.6 707.8 L1252.9 709.8 L1253.3 711.8 L1253.7 713.7 L1254.0 715.7 L1254.4 717.7 L1254.7 719.6 L1255.1 721.6 L1255.5 723.6 L1255.8 725.5 L1256.2 727.5 L1256.5 729.5 L1256.9 731.4 L1257.3 733.4 L1257.6 735.4 L1258.0 737.3 L1258.3 739.3 L1258.7 741.3 L1259.0 743.2 L1259.4 745.2 L1259.7 747.2 L1260.1 749.1 L1260.5 751.1 L1260.8 753.1 L1261.2 755.0 L1261.5 757.0 L1261.9 759.0 L1262.2 761.0 L1262.6 762.9 L1262.9 764.9 L1263.3 766.9 L1263.6 768.8 L1264.0 770.8 L1264.3 772.8 L1264.7 774.8 L1265.0 776.7 L1265.4 778.7 L1265.7 780.7 L1266.1 782.6 L1266.4 784.6 L1266.8 786.6 L1267.1 788.6 L1267.5 790.5 L1267.8 792.5 L1268.2 794.5 L1268.5 796.5 L1268.9 798.4 L1269.2 800.4 L1269.6 802.4 L1269.9 804.4 L1270.3 806.4 L1270.6 808.3 L1271.0 810.3 L1271.3 812.3 L1271.6 814.3 L1272.0 816.2 L1272.3 818.2 L1272.7 820.2 L1273.0 822.2 L1273.4 824.2 L1273.7 826.1 L1274.1 828.1 L1274.4 830.1 L1274.8 832.1 L1275.1 834.1 L1275.5 836.0 L1275.8 838.0 L1276.1 840.0 L1276.5 842.0 L1276.8 844.0 L1277.2 846.0 L1277.5 847.9 L1277.9 849.9 L1278.2 851.9 L1278.6 853.9 L1278.9 855.9 L1279.3 857.8 L1279.7 859.8 L1280.0 861.8 L1280.4 863.8 L1280.7 865.8 L1281.1 867.7 L1281.4 869.7 L1281.8 871.7 L1282.1 873.7 L1282.5 875.7 L1282.9 877.6 L1283.2 879.6 L1283.6 881.6 L1284.0 883.6 L1284.3 885.5 L1284.7 887.5 L1285.1 889.5 L1285.4 891.5 L1285.8 893.5 L1286.2 895.4 L1286.5 897.4 L1286.9 899.4 L1287.3 901.4 L1287.7 903.3 L1288.0 905.3 L1288.4 907.3 L1288.8 909.3 L1289.2 911.2 L1289.6 913.2 L1290.0 915.2 L1290.3 917.1 L1290.7 919.1 L1291.1 921.1 L1291.5 923.1 L1291.9 925.0 L1292.3 927.0 L1292.7 929.0 L1293.1 930.9 L1293.5 932.9 L1293.9 934.9 L1294.3 936.8 L1294.7 938.8 L1295.1 940.8 L1295.6 942.7 L1296.0 944.7 L1296.4 946.6 L1296.8 948.6 L1297.2 950.6 L1297.6 952.5 L1298.1 954.5 L1298.5 956.4 L1298.9 958.4 L1299.4 960.3 L1299.8 962.3 L1300.2 964.3 L1300.7 966.2 L1301.1 968.2 L1301.6 970.1 L1302.0 972.1 L1302.5 974.0 L1302.9 976.0 L1303.4 977.9 L1303.8 979.9 L1304.3 981.8 L1304.8 983.7 L1305.2 985.7 L1305.7 987.6 L1306.2 989.6 L1306.7 991.5 L1307.1 993.4 L1307.6 995.4 L1308.1 997.3 L1308.6 999.3 L1309.1 1001.2 L1309.6 1003.1 L1310.1 1005.1 L1310.6 1007.0 L1311.1 1008.9 L1311.6 1010.8 L1312.1 1012.8 L1312.6 1014.7 L1313.1 1016.6 L1313.7 1018.5 L1314.2 1020.5 L1314.7 1022.4 L1315.3 1024.3 L1315.8 1026.2 L1316.3 1028.1 L1316.9 1030.0 L1317.4 1032.0 L1318.0 1033.9 L1318.5 1035.8 L1319.1 1037.7 L1319.7 1039.6 L1320.2 1041.5 L1320.8 1043.4 L1321.4 1045.3 L1321.9 1047.2 L1322.5 1049.1 L1323.1 1051.0 L1323.7 1052.9 L1324.3 1054.8 L1324.9 1056.7 L1325.5 1058.6 L1326.1 1060.5 L1326.7 1062.4 L1327.3 1064.2 L1327.9 1066.1 L1328.6 1068.0 L1329.2 1069.9 L1329.8 1071.8 L1330.5 1073.6 L1331.1 1075.5 L1331.8 1077.4 L1332.4 1079.3 L1333.1 1081.1 L1333.7 1083.0 L1334.4 1084.9 L1335.1 1086.7 L1335.7 1088.6 L1336.4 1090.5 L1337.1 1092.3 L1337.8 1094.2 L1338.5 1096.0 L1339.2 1097.9 L1339.9 1099.7 L1340.6 1101.6 L1341.3 1103.4 L1342.0 1105.3 L1342.8 1107.1 L1343.5 1109.0 L1344.3 1110.8 L1345.1 1112.7 L1345.9 1114.5 L1346.8 1116.4 L1347.6 1118.3 L1348.5 1120.1 L1349.5 1122.0 L1350.5 1123.9 L1351.5 1125.8 L1352.5 1127.7 L1353.6 1129.5 L1354.7 1131.4 L1355.8 1133.2 L1357.0 1135.0 L1358.2 1136.8 L1359.5 1138.5 L1360.7 1140.2 L1362.0 1141.9 L1363.4 1143.5 L1364.8 1145.1 L1366.2 1146.6 L1367.6 1148.0 L1369.1 1149.4 L1370.6 1150.7 L1372.2 1151.9 L1373.8 1153.1 L1375.4 1154.2 L1377.1 1155.1 L1378.8 1156.0 L1380.5 1156.8 L1382.3 1157.5 L1384.1 1158.1 L1385.9 1158.6 L1387.8 1158.9 L1389.6 1159.2 L1391.5 1159.4 L1393.5 1159.5 L1395.4 1159.5 L1397.3 1159.4 L1399.3 1159.2 L1401.2 1158.9 L1403.1 1158.6 L1405.1 1158.1 L1407.0 1157.6 L1408.9 1157.0 L1410.8 1156.4 L1412.7 1155.6 L1414.5 1154.9 L1416.3 1154.0 L1418.1 1153.1 L1419.8 1152.1 L1421.5 1151.1 L1423.2 1150.0 L1424.8 1148.8 L1426.3 1147.6 L1427.9 1146.4 L1429.4 1145.1 L1430.9 1143.8 L1432.3 1142.4 L1433.7 1141.0 L1435.1 1139.5 L1436.4 1138.1 L1437.8 1136.6 L1439.1 1135.0 L1440.4 1133.5 L1441.6 1131.9 L1442.9 1130.3 L1444.1 1128.7 L1445.3 1127.1 L1446.6 1125.4 L1447.7 1123.8 L1448.9 1122.1 L1450.1 1120.4 L1451.3 1118.8 L1452.5 1117.1 L1453.6 1115.4 L1454.8 1113.8 L1455.9 1112.1 L1457.1 1110.4 L1458.2 1108.7 L1459.3 1107.0 L1460.4 1105.3 L1461.6 1103.7 L1462.7 1102.0 L1463.8 1100.3 L1464.9 1098.6 L1466.0 1096.9 L1467.1 1095.2 L1468.2 1093.5 L1469.2 1091.8 L1470.3 1090.0 L1471.4 1088.3 L1472.4 1086.6 L1473.5 1084.9 L1474.6 1083.2 L1475.6 1081.5 L1476.6 1079.7 L1477.7 1078.0 L1478.7 1076.3 L1479.7 1074.6 L1480.8 1072.8 L1481.8 1071.1 L1482.8 1069.3 L1483.8 1067.6 L1484.8 1065.9 L1485.8 1064.1 L1486.8 1062.4 L1487.8 1060.6 L1488.8 1058.9 L1489.8 1057.1 L1490.7 1055.4 L1491.7 1053.6 L1492.7 1051.9 L1493.7 1050.1 L1494.6 1048.4 L1495.6 1046.6 L1496.5 1044.8 L1497.5 1043.1 L1498.4 1041.3 L1499.4 1039.5 L1500.3 1037.8 L1501.2 1036.0 L1502.1 1034.2 L1503.1 1032.4 L1504.0 1030.7 L1504.9 1028.9 L1505.8 1027.1 L1506.7 1025.3 L1507.6 1023.6 L1508.5 1021.8 L1509.4 1020.0 L1510.3 1018.2 L1511.2 1016.4 L1512.1 1014.6 L1513.0 1012.8 L1513.9 1011.0 L1514.8 1009.2 L1515.6 1007.4 L1516.5 1005.6 L1517.4 1003.8 L1518.3 1002.0 L1519.1 1000.2 L1520.0 998.4 L1520.8 996.6 L1521.7 994.8 L1522.6 993.0 L1523.4 991.2 L1524.3 989.4 L1525.1 987.6 L1525.9 985.8 L1526.8 984.0 L1527.6 982.2 L1528.5 980.4 L1529.3 978.5 L1530.1 976.7 L1531.0 974.9 L1531.8 973.1 L1532.6 971.3 L1533.4 969.5 L1534.3 967.6 L1535.1 965.8 L1535.9 964.0 L1536.7 962.2 L1537.5 960.3 L1538.3 958.5 L1539.1 956.7 L1540.0 954.9 L1540.8 953.0 L1541.6 951.2 L1542.4 949.4 L1543.2 947.6 L1544.0 945.7 L1544.8 943.9 L1545.6 942.1 L1546.4 940.2 L1547.2 938.4 L1548.0 936.6 L1548.8 934.7 L1549.5 932.9 L1550.3 931.1 L1551.1 929.2 L1551.9 927.4 L1552.7 925.6 L1553.5 923.7 L1554.3 921.9 L1555.1 920.1 L1555.9 918.2 L1556.6 916.4 L1557.4 914.5 L1558.2 912.7 L1559.0 910.9 L1559.8 909.0 L1560.6 907.2 L1561.3 905.3 L1562.1 903.5 L1562.9 901.7 L1563.7 899.8 L1564.5 898.0 L1565.2 896.1 L1566.0 894.3 L1566.8 892.5 L1567.6 890.6 L1568.4 888.8 L1569.1 886.9 L1569.9 885.1 L1570.7 883.3 L1571.5 881.4 L1572.3 879.6 L1573.0 877.7 L1573.8 875.9 L1574.6 874.1 L1575.4 872.2 L1576.2 870.4 L1577.0 868.5 L1577.8 866.7 L1578.5 864.9 L1579.3 863.0 L1580.1 861.2 L1580.9 859.3 L1581.7 857.5 L1582.5 855.7 L1583.3 853.8 L1584.1 852.0 L1584.9 850.2 L1585.6 848.3 L1586.4 846.5 L1587.2 844.7 L1588.0 842.8 L1588.8 841.0 L1589.6 839.2 L1590.4 837.3 L1591.2 835.5 L1592.0 833.7 L1592.9 831.8 L1593.7 830.0 L1594.5 828.2 L1595.3 826.3 L1596.1 824.5 L1596.9 822.7 L1597.7 820.8 L1598.6 819.0 L1599.4 817.2 L1600.2 815.4 L1601.0 813.5 L1601.8 811.7 L1602.7 809.9 L1603.5 808.1 L1604.3 806.3 L1605.2 804.4 L1606.0 802.6 L1606.9 800.8 L1607.7 799.0 L1608.5 797.2 L1609.4 795.3 L1610.2 793.5 L1611.1 791.7 L1612.0 789.9 L1612.8 788.1 L1613.7 786.3 L1614.5 784.5 L1615.4 782.7 L1616.3 780.9 L1617.2 779.1 L1618.0 777.3 L1618.9 775.5 L1619.8 773.7 L1620.7 771.9 L1621.6 770.1 L1622.5 768.3 L1623.4 766.5 L1624.3 764.7 L1625.2 762.9 L1626.2 761.2 L1627.1 759.4 L1628.0 757.6 L1629.0 755.8 L1630.0 754.1 L1630.9 752.3 L1631.9 750.6 L1632.9 748.8 L1633.9 747.1 L1634.8 745.4 L1635.9 743.6 L1636.9 741.9 L1637.9 740.2 L1638.9 738.5 L1640.0 736.8 L1641.0 735.1 L1642.1 733.4 L1643.2 731.7 L1644.2 730.0 L1645.3 728.3 L1646.4 726.6 L1647.6 725.0 L1648.7 723.3 L1649.8 721.7 L1651.0 720.0 L1652.2 718.4 L1653.3 716.8 L1654.5 715.2 L1655.7 713.6 L1657.0 712.0 L1658.2 710.4 L1659.5 708.8 L1660.7 707.2 L1662.0 705.7 L1663.3 704.1 L1664.6 702.6 L1665.9 701.1 L1667.3 699.5 L1668.6 698.0 L1670.0 696.5 L1671.4 695.0 L1672.8 693.5 L1674.2 692.1 L1675.7 690.6 L1677.1 689.2 L1678.6 687.7 L1680.1 686.3 L1681.6 684.9 L1683.1 683.6 L1684.7 682.2 L1686.2 680.9 L1687.8 679.6 L1689.4 678.4 L1691.0 677.2 L1692.7 676.1 L1694.3 675.0 L1696.0 673.9 L1697.7 672.9 L1699.4 672.0 L1701.2 671.1 L1702.9 670.3 L1704.7 669.5 L1706.5 668.8 L1708.3 668.2 L1710.2 667.7 L1712.0 667.3 L1713.9 666.9 L1715.8 666.6 L1717.7 666.5 L1719.7 666.3 L1721.6 666.3 L1723.5 666.3 L1725.5 666.5 L1727.5 666.7 L1729.4 666.9 L1731.4 667.2 L1733.3 667.6 L1735.3 668.1 L1737.2 668.6 L1739.2 669.2 L1741.1 669.9 L1743.0 670.6 L1744.9 671.4 L1746.8 672.3 L1748.6 673.2 L1750.5 674.1 L1752.3 675.1 L1754.1 676.2 L1755.8 677.3 L1757.5 678.4 L1759.2 679.6 L1760.8 680.9 L1762.5 682.2 L1764.0 683.5 L1765.5 684.9 L1767.0 686.3 L1768.4 687.8 L1769.8 689.3 L1771.1 690.8 L1772.4 692.4 L1773.6 693.9 L1774.8 695.5 L1775.9 697.2 L1777.1 698.8 L1778.2 700.4 L1779.3 702.1 L1780.5 703.7 L1781.6 705.3 L1782.8 706.9 L1784.0 708.5 L1785.3 710.0 L1786.6 711.5 L1788.0 713.0"/>
</g>
<!-- Y tick labels -->
<g class="tl" text-anchor="end">
<text x="212" y="75">1500</text>
<text x="212" y="324">1000</text>
<text x="212" y="573">500</text>
<text x="212" y="822">0</text>
<text x="212" y="1071">-500</text>
<text x="212" y="1320">-1000</text>
</g>
<!-- X tick labels -->
<g class="tl" text-anchor="middle">
<text x="237.5" y="1371">6320.2</text>
<text x="655.5" y="1371">6320.4</text>
<text x="1073.3" y="1371">6320.6</text>
<text x="1491.3" y="1371">6320.8</text>
</g>
<!-- axis titles -->
<text class="ax" x="761" y="1451" letter-spacing="-0.35">Wavenumber (cm<tspan font-size="46" dy="-25">-1</tspan><tspan dy="25">)</tspan></text>
<text class="ax" transform="translate(87,707) rotate(-90)" text-anchor="middle" style="font-size:65px">Signal (µV)</text>
<!-- legend -->
<g stroke-width="5.3" stroke-linecap="butt">
<line x1="313.5" y1="140" x2="416.5" y2="140" stroke="#404040"/>
<line x1="313.5" y1="210.3" x2="416.5" y2="210.3" stroke="#ff3030"/>
<line x1="313.5" y1="280.8" x2="416.5" y2="280.8" stroke="#0068e0"/>
<line x1="313.5" y1="351" x2="416.5" y2="351" stroke="#00aa5e"/>
<line x1="313.5" y1="421.8" x2="416.5" y2="421.8" stroke="#c466e0"/>
</g>
<g class="lg">
<text x="425" y="157.5">H<tspan class="sb" dy="13">2</tspan><tspan dy="-13">S</tspan></text>
<text x="425" y="228">H<tspan class="sb" dy="13">2</tspan><tspan dy="-13">S +NH</tspan><tspan class="sb" dy="13">3</tspan></text>
<text x="425" y="298.3">H<tspan class="sb" dy="13">2</tspan><tspan dy="-13">S +CO</tspan></text>
<text x="425" y="368.8">H<tspan class="sb" dy="13">2</tspan><tspan dy="-13">S +CO</tspan><tspan class="sb" dy="13">2</tspan></text>
<text x="425" y="439.3">H<tspan class="sb" dy="13">2</tspan><tspan dy="-13">S +NH</tspan><tspan class="sb" dy="13">3</tspan><tspan dy="-13"> +CO +CO</tspan><tspan class="sb" dy="13">2</tspan></text>
</g>
</svg>
</body></html>
